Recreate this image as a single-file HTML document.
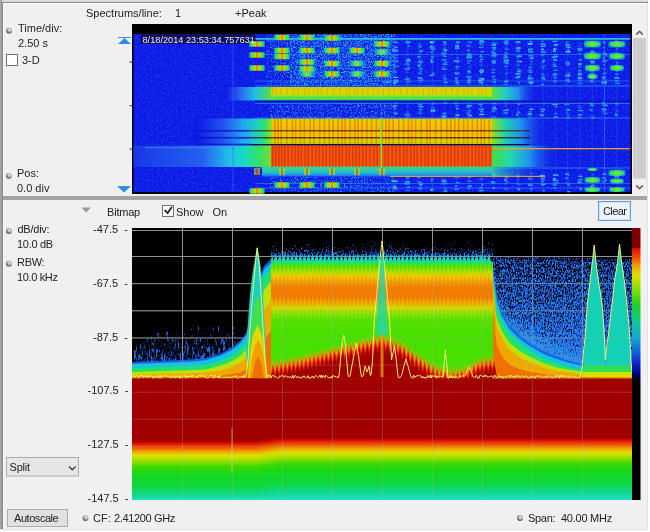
<!DOCTYPE html>
<html><head><meta charset="utf-8"><style>
*{margin:0;padding:0;box-sizing:border-box}
html,body{width:650px;height:532px;overflow:hidden;background:#f0f0f0}
body{position:relative;font-family:"Liberation Sans",sans-serif;font-size:11px;color:#222}
.t{position:absolute;white-space:nowrap;line-height:1}
.ab{position:absolute}
svg{position:absolute;left:0;top:0}
</style></head><body>
<svg width="650" height="532" viewBox="0 0 650 532">
<defs>
<linearGradient id="floorg" x1="0" y1="378.5" x2="0" y2="500" gradientUnits="userSpaceOnUse"><stop offset="0.0000" stop-color="#a00000"/><stop offset="0.4897" stop-color="#a00000"/><stop offset="0.5103" stop-color="#e01000"/><stop offset="0.5432" stop-color="#f05000"/><stop offset="0.5761" stop-color="#f0a000"/><stop offset="0.6091" stop-color="#e0e000"/><stop offset="0.6502" stop-color="#a0e000"/><stop offset="0.6996" stop-color="#40d800"/><stop offset="0.7654" stop-color="#10d818"/><stop offset="0.8642" stop-color="#10d840"/><stop offset="0.9383" stop-color="#10d890"/><stop offset="1.0000" stop-color="#20e0c8"/></linearGradient><linearGradient id="floorL" x1="0" y1="378.5" x2="0" y2="500" gradientUnits="userSpaceOnUse"><stop offset="0.0000" stop-color="#a00000"/><stop offset="0.5144" stop-color="#a00000"/><stop offset="0.5350" stop-color="#e01000"/><stop offset="0.5679" stop-color="#f05000"/><stop offset="0.6008" stop-color="#f0a000"/><stop offset="0.6337" stop-color="#e0e000"/><stop offset="0.6749" stop-color="#a0e000"/><stop offset="0.7243" stop-color="#40d800"/><stop offset="0.7901" stop-color="#10d818"/><stop offset="0.8889" stop-color="#10d840"/><stop offset="0.9630" stop-color="#10d890"/><stop offset="1.0000" stop-color="#20e0c8"/></linearGradient>
<filter id="sn1" x="0" y="0" width="1" height="1" color-interpolation-filters="sRGB">
<feTurbulence type="fractalNoise" baseFrequency="0.8 0.5" numOctaves="2" seed="21" result="n"/>
<feColorMatrix in="n" type="matrix" values="0 0 0 0 0  0 0 0 0 0  0 0 0 0 0  1 0 0 0 0" result="na"/>
<feComposite in="na" in2="SourceAlpha" operator="arithmetic" k1="0" k2="1" k3="1" k4="-1" result="s"/>
<feComponentTransfer in="s" result="th"><feFuncA type="linear" slope="6" intercept="-0.2"/></feComponentTransfer>
<feFlood flood-color="#1830f0" result="f"/>
<feComposite in="f" in2="th" operator="in"/>
</filter><filter id="sn2" x="0" y="0" width="1" height="1" color-interpolation-filters="sRGB">
<feTurbulence type="fractalNoise" baseFrequency="0.7 0.8" numOctaves="2" seed="33" result="n"/>
<feColorMatrix in="n" type="matrix" values="0 0 0 0 0  0 0 0 0 0  0 0 0 0 0  1 0 0 0 0" result="na"/>
<feComposite in="na" in2="SourceAlpha" operator="arithmetic" k1="0" k2="1" k3="1" k4="-1" result="s"/>
<feComponentTransfer in="s" result="th"><feFuncA type="linear" slope="6" intercept="-0.2"/></feComponentTransfer>
<feFlood flood-color="#2080f0" result="f"/>
<feComposite in="f" in2="th" operator="in"/>
</filter><filter id="sn3" x="0" y="0" width="1" height="1" color-interpolation-filters="sRGB">
<feTurbulence type="fractalNoise" baseFrequency="0.7 0.8" numOctaves="2" seed="45" result="n"/>
<feColorMatrix in="n" type="matrix" values="0 0 0 0 0  0 0 0 0 0  0 0 0 0 0  1 0 0 0 0" result="na"/>
<feComposite in="na" in2="SourceAlpha" operator="arithmetic" k1="0" k2="1" k3="1" k4="-1" result="s"/>
<feComponentTransfer in="s" result="th"><feFuncA type="linear" slope="6" intercept="-0.2"/></feComponentTransfer>
<feFlood flood-color="#30b8f0" result="f"/>
<feComposite in="f" in2="th" operator="in"/>
</filter><linearGradient id="bBl" x1="225" y1="0" x2="272" y2="0" gradientUnits="userSpaceOnUse"><stop offset="0" stop-color="#0c18e4"/><stop offset="0.3" stop-color="#2a60f0"/><stop offset="0.65" stop-color="#20c0e0"/><stop offset="1" stop-color="#60e040"/></linearGradient><linearGradient id="bBr" x1="492" y1="0" x2="535" y2="0" gradientUnits="userSpaceOnUse"><stop offset="0" stop-color="#60e040"/><stop offset="0.3" stop-color="#20d0c0"/><stop offset="0.6" stop-color="#2090f0"/><stop offset="1" stop-color="#1840e8" stop-opacity="0"/></linearGradient><linearGradient id="bBv" x1="0" y1="87" x2="0" y2="100.5" gradientUnits="userSpaceOnUse"><stop offset="0" stop-color="#b0e000"/><stop offset="0.3" stop-color="#e8d000"/><stop offset="0.55" stop-color="#c0e000"/><stop offset="0.75" stop-color="#60e040"/><stop offset="1" stop-color="#30e060"/></linearGradient><linearGradient id="bDl" x1="195" y1="0" x2="273" y2="0" gradientUnits="userSpaceOnUse"><stop offset="0" stop-color="#0c18e4"/><stop offset="0.35" stop-color="#2450f0"/><stop offset="0.62" stop-color="#20a8f0"/><stop offset="0.8" stop-color="#20d0c0"/><stop offset="0.9" stop-color="#30e070"/><stop offset="1" stop-color="#b0e000"/></linearGradient><linearGradient id="bDr" x1="492" y1="0" x2="545" y2="0" gradientUnits="userSpaceOnUse"><stop offset="0" stop-color="#90e020"/><stop offset="0.25" stop-color="#20d0b0"/><stop offset="0.55" stop-color="#2090f0"/><stop offset="1" stop-color="#1840e8" stop-opacity="0"/></linearGradient><linearGradient id="bDv" x1="0" y1="118.5" x2="0" y2="144.5" gradientUnits="userSpaceOnUse"><stop offset="0" stop-color="#e0d800"/><stop offset="0.4" stop-color="#f0c000"/><stop offset="0.75" stop-color="#e8d000"/><stop offset="1" stop-color="#b0e000"/></linearGradient><linearGradient id="bEl" x1="133.5" y1="0" x2="271" y2="0" gradientUnits="userSpaceOnUse"><stop offset="0" stop-color="#1838e8"/><stop offset="0.5" stop-color="#2460f0"/><stop offset="0.7" stop-color="#20c0e8"/><stop offset="0.8" stop-color="#18d8c8"/><stop offset="0.9" stop-color="#30e070"/><stop offset="1" stop-color="#70e030"/></linearGradient><linearGradient id="bEr" x1="492" y1="0" x2="555" y2="0" gradientUnits="userSpaceOnUse"><stop offset="0" stop-color="#40e040"/><stop offset="0.3" stop-color="#20d8b0"/><stop offset="0.6" stop-color="#2090f0"/><stop offset="1" stop-color="#1840e8" stop-opacity="0"/></linearGradient><linearGradient id="bFv" x1="0" y1="166.5" x2="0" y2="176.5" gradientUnits="userSpaceOnUse"><stop offset="0" stop-color="#40e060"/><stop offset="0.35" stop-color="#30d8a0"/><stop offset="0.7" stop-color="#20b0e0"/><stop offset="1" stop-color="#2070f0"/></linearGradient><linearGradient id="bFr" x1="492" y1="0" x2="540" y2="0" gradientUnits="userSpaceOnUse"><stop offset="0" stop-color="#30d0b0"/><stop offset="1" stop-color="#2060f0" stop-opacity="0"/></linearGradient><linearGradient id="spg" x1="0" y1="0" x2="1" y2="0"><stop offset="0" stop-color="#20d0a0" stop-opacity="0.4"/><stop offset="0.12" stop-color="#30e070"/><stop offset="0.36" stop-color="#a0e000"/><stop offset="0.45" stop-color="#f0c000"/><stop offset="0.5" stop-color="#e83000"/><stop offset="0.55" stop-color="#f0c000"/><stop offset="0.64" stop-color="#a0e000"/><stop offset="0.88" stop-color="#30e070"/><stop offset="1" stop-color="#20d0a0" stop-opacity="0.4"/></linearGradient><linearGradient id="spf" x1="0" y1="0" x2="1" y2="0"><stop offset="0" stop-color="#20b0e0" stop-opacity="0.3"/><stop offset="0.3" stop-color="#30d890"/><stop offset="0.5" stop-color="#80e030"/><stop offset="0.7" stop-color="#30d890"/><stop offset="1" stop-color="#20b0e0" stop-opacity="0.3"/></linearGradient><radialGradient id="spr" cx="0.5" cy="0.5" r="0.5"><stop offset="0" stop-color="#c0e000"/><stop offset="0.45" stop-color="#50e040"/><stop offset="0.8" stop-color="#20e080"/><stop offset="1" stop-color="#20c0c0" stop-opacity="0.6"/></radialGradient>
<filter id="spk3" x="0" y="0" width="1" height="1" color-interpolation-filters="sRGB">
<feTurbulence type="fractalNoise" baseFrequency="0.55 0.13" numOctaves="3" seed="9" result="n"/>
<feColorMatrix in="n" type="matrix" values="0 0 0 0 0  0 0 0 0 0  0 0 0 0 0  1 0 0 0 0" result="na"/>
<feComposite in="na" in2="SourceAlpha" operator="arithmetic" k1="0" k2="1" k3="1" k4="-1" result="s"/>
<feComponentTransfer in="s" result="th"><feFuncA type="linear" slope="7" intercept="-0.3"/></feComponentTransfer>
<feFlood flood-color="#2470ec" result="f"/>
<feComposite in="f" in2="th" operator="in"/>
</filter>
<filter id="spk1" x="0" y="0" width="1" height="1" color-interpolation-filters="sRGB">
<feTurbulence type="fractalNoise" baseFrequency="0.95 0.45" numOctaves="2" seed="4" result="n"/>
<feColorMatrix in="n" type="matrix" values="0 0 0 0 0  0 0 0 0 0  0 0 0 0 0  1 0 0 0 0" result="na"/>
<feComposite in="na" in2="SourceAlpha" operator="arithmetic" k1="0" k2="1" k3="1" k4="-1" result="s"/>
<feComponentTransfer in="s" result="th"><feFuncA type="linear" slope="6" intercept="-0.2"/></feComponentTransfer>
<feFlood flood-color="#1850e0" result="f"/>
<feComposite in="f" in2="th" operator="in"/>
</filter>
<filter id="spk2" x="0" y="0" width="1" height="1" color-interpolation-filters="sRGB">
<feTurbulence type="fractalNoise" baseFrequency="0.9 0.4" numOctaves="2" seed="17" result="n"/>
<feColorMatrix in="n" type="matrix" values="0 0 0 0 0  0 0 0 0 0  0 0 0 0 0  1 0 0 0 0" result="na"/>
<feComposite in="na" in2="SourceAlpha" operator="arithmetic" k1="0" k2="1" k3="1" k4="-1" result="s"/>
<feComponentTransfer in="s" result="th"><feFuncA type="linear" slope="6" intercept="-0.5"/></feComponentTransfer>
<feFlood flood-color="#2a88f0" result="f"/>
<feComposite in="f" in2="th" operator="in"/>
</filter>
<linearGradient id="dR" x1="0" y1="256" x2="0" y2="372" gradientUnits="userSpaceOnUse"><stop offset="0" stop-color="#fff" stop-opacity="0.55"/><stop offset="1" stop-color="#fff"/></linearGradient><linearGradient id="dR2" x1="0" y1="256" x2="0" y2="372" gradientUnits="userSpaceOnUse"><stop offset="0" stop-color="#fff" stop-opacity="0.56"/><stop offset="0.5" stop-color="#fff" stop-opacity="0.63"/><stop offset="1" stop-color="#fff" stop-opacity="0.74"/></linearGradient><linearGradient id="dL" x1="0" y1="325" x2="0" y2="368" gradientUnits="userSpaceOnUse"><stop offset="0" stop-color="#fff" stop-opacity="0.36"/><stop offset="0.6" stop-color="#fff" stop-opacity="0.49"/><stop offset="1" stop-color="#fff" stop-opacity="0.61"/></linearGradient><linearGradient id="dRx" x1="493" y1="0" x2="605" y2="0" gradientUnits="userSpaceOnUse"><stop offset="0" stop-color="#fff" stop-opacity="1"/><stop offset="1" stop-color="#fff" stop-opacity="1"/></linearGradient><linearGradient id="dT" x1="0" y1="242" x2="0" y2="256" gradientUnits="userSpaceOnUse"><stop offset="0" stop-color="#fff" stop-opacity="0.32"/><stop offset="1" stop-color="#fff" stop-opacity="0.56"/></linearGradient><linearGradient id="blk" x1="0" y1="252" x2="0" y2="378" gradientUnits="userSpaceOnUse"><stop offset="0.0" stop-color="#1860f0"/><stop offset="0.0238" stop-color="#10a8f0"/><stop offset="0.0556" stop-color="#10d8d0"/><stop offset="0.0873" stop-color="#20e070"/><stop offset="0.119" stop-color="#40e000"/><stop offset="0.1587" stop-color="#a0e000"/><stop offset="0.1984" stop-color="#f0d000"/><stop offset="0.2381" stop-color="#f0a000"/><stop offset="0.2857" stop-color="#f08000"/><stop offset="0.3651" stop-color="#f07800"/><stop offset="0.4127" stop-color="#f0a000"/><stop offset="0.4444" stop-color="#e0d800"/><stop offset="0.4841" stop-color="#a0e000"/><stop offset="0.5397" stop-color="#58e000"/><stop offset="0.6587" stop-color="#48e000"/><stop offset="1.0" stop-color="#48e000"/></linearGradient><linearGradient id="blk2" x1="0" y1="247" x2="0" y2="373" gradientUnits="userSpaceOnUse"><stop offset="0.0" stop-color="#1860f0"/><stop offset="0.0238" stop-color="#10a8f0"/><stop offset="0.0556" stop-color="#10d8d0"/><stop offset="0.0873" stop-color="#20e070"/><stop offset="0.119" stop-color="#40e000"/><stop offset="0.1587" stop-color="#a0e000"/><stop offset="0.1984" stop-color="#f0d000"/><stop offset="0.2381" stop-color="#f0a000"/><stop offset="0.2857" stop-color="#f08000"/><stop offset="0.3651" stop-color="#f07800"/><stop offset="0.4127" stop-color="#f0a000"/><stop offset="0.4444" stop-color="#e0d800"/><stop offset="0.4841" stop-color="#a0e000"/><stop offset="0.5397" stop-color="#58e000"/><stop offset="0.6587" stop-color="#48e000"/><stop offset="1.0" stop-color="#48e000"/></linearGradient><pattern id="comb" patternUnits="userSpaceOnUse" x="271" y="0" width="4.1" height="532"><rect x="0" y="247" width="1.8" height="131" fill="url(#blk2)"/></pattern><linearGradient id="cbar" x1="0" y1="228" x2="0" y2="500" gradientUnits="userSpaceOnUse"><stop offset="0.0" stop-color="#800000"/><stop offset="0.0735" stop-color="#800000"/><stop offset="0.0757" stop-color="#e01000"/><stop offset="0.1103" stop-color="#f05000"/><stop offset="0.1397" stop-color="#f0a000"/><stop offset="0.1728" stop-color="#e0e000"/><stop offset="0.2279" stop-color="#80e000"/><stop offset="0.2831" stop-color="#20d020"/><stop offset="0.3456" stop-color="#10c890"/><stop offset="0.4044" stop-color="#10a8d0"/><stop offset="0.4559" stop-color="#1060e0"/><stop offset="0.5" stop-color="#1020d0"/><stop offset="0.5368" stop-color="#000080"/><stop offset="0.5625" stop-color="#000000"/><stop offset="1.0" stop-color="#000000"/></linearGradient><radialGradient id="ico" cx="0.58" cy="0.36" r="0.72"><stop offset="0" stop-color="#eef0e6"/><stop offset="0.4" stop-color="#b4bca4"/><stop offset="0.72" stop-color="#6a7080"/><stop offset="1" stop-color="#2a2a62"/></radialGradient></defs>
<rect x="0" y="0" width="650" height="2" fill="#dcdcdc"/>
<rect x="0" y="2" width="648" height="1" fill="#878787"/>
<rect x="3" y="3" width="645" height="1" fill="#fbfbfb"/>
<rect x="0" y="0" width="1" height="530" fill="#a8a8a8"/>
<rect x="1" y="0" width="1" height="530" fill="#999"/>
<rect x="2" y="2" width="1" height="528" fill="#8a8a8a"/>
<rect x="3" y="3" width="1" height="526" fill="#f8f8f8"/>
<rect x="647" y="3" width="1" height="527" fill="#e2e2e2"/>
<rect x="648" y="0" width="2" height="532" fill="#fdfdfd"/>
<rect x="0" y="529" width="648" height="1" fill="#e2e2e2"/>
<rect x="0" y="530" width="650" height="2" fill="#fdfdfd"/>
<rect x="3" y="196" width="644" height="4" fill="#a3a3a3"/>
<rect x="132" y="24" width="500" height="170" fill="#000"/><rect x="133.5" y="34" width="497" height="158" fill="#0c18e4"/><rect x="133.5" y="34" width="497" height="158" fill="#fff" fill-opacity="0.56" filter="url(#sn1)"/><rect x="290" y="34" width="105" height="52" fill="#fff" fill-opacity="0.56" filter="url(#sn2)"/><rect x="290" y="34" width="105" height="52" fill="#fff" fill-opacity="0.47" filter="url(#sn3)"/><rect x="266" y="34" width="24" height="52" fill="#fff" fill-opacity="0.47" filter="url(#sn2)"/><rect x="266" y="34" width="24" height="52" fill="#fff" fill-opacity="0.4" filter="url(#sn3)"/><rect x="270" y="103" width="125" height="15" fill="#fff" fill-opacity="0.47" filter="url(#sn2)"/><rect x="270" y="103" width="125" height="15" fill="#fff" fill-opacity="0.42" filter="url(#sn3)"/><rect x="270" y="177" width="125" height="15" fill="#fff" fill-opacity="0.48" filter="url(#sn2)"/><rect x="270" y="177" width="125" height="15" fill="#fff" fill-opacity="0.42" filter="url(#sn3)"/><rect x="393.7" y="50.5" width="5" height="1.3" fill="#30a0f0" opacity="0.9"/><rect x="393.7" y="60.9" width="5" height="1.3" fill="#2a70f0" opacity="0.5"/><rect x="393.9" y="60.6" width="5" height="1.3" fill="#30a0f0" opacity="0.7"/><rect x="393.2" y="60.7" width="5" height="1.3" fill="#30b0f0" opacity="1"/><rect x="394.4" y="46.6" width="3" height="1.3" fill="#60d8f0" opacity="1"/><rect x="394.0" y="69.5" width="2" height="1.3" fill="#30a0f0" opacity="0.5"/><rect x="394.3" y="41.4" width="3" height="1.3" fill="#30b0f0" opacity="1"/><rect x="394.3" y="80.5" width="4" height="1.3" fill="#20c8e0" opacity="1"/><rect x="393.2" y="45.9" width="3" height="1.3" fill="#2a70f0" opacity="0.5"/><rect x="393.2" y="49.5" width="4" height="1.3" fill="#20c8e0" opacity="0.9"/><rect x="393.1" y="76.7" width="5" height="1.3" fill="#40c0f0" opacity="1"/><rect x="394.8" y="79.8" width="2" height="1.3" fill="#40c0f0" opacity="0.7"/><rect x="393.3" y="54.4" width="5" height="1.3" fill="#60d8f0" opacity="0.5"/><rect x="392.1" y="49.3" width="5" height="1.3" fill="#40c0f0" opacity="0.9"/><rect x="394.0" y="61.2" width="4" height="1.3" fill="#2a70f0" opacity="0.9"/><rect x="393.8" y="58.1" width="3" height="1.3" fill="#2a70f0" opacity="0.9"/><rect x="394.2" y="58.3" width="2" height="1.3" fill="#2a70f0" opacity="0.5"/><rect x="393.9" y="65.8" width="5" height="1.3" fill="#40c0f0" opacity="0.7"/><rect x="395.3" y="53.6" width="2" height="1.3" fill="#2a70f0" opacity="0.5"/><rect x="393.2" y="82.7" width="3" height="1.3" fill="#60d8f0" opacity="0.9"/><rect x="394.8" y="41.9" width="3" height="1.3" fill="#40c0f0" opacity="0.9"/><rect x="394.1" y="79.5" width="4" height="1.3" fill="#30b0f0" opacity="1"/><rect x="393.1" y="57.0" width="5" height="1.3" fill="#20c8e0" opacity="0.5"/><rect x="393.2" y="81.4" width="5" height="1.3" fill="#40c0f0" opacity="1"/><rect x="393.9" y="71.5" width="3" height="1.3" fill="#30b0f0" opacity="0.9"/><rect x="393.4" y="64.1" width="2" height="1.3" fill="#30b0f0" opacity="0.9"/><rect x="393.8" y="111.9" width="3" height="1.3" fill="#2a70f0" opacity="0.9"/><rect x="394.4" y="112.9" width="3" height="1.3" fill="#60d8f0" opacity="0.9"/><rect x="395.3" y="102.4" width="2" height="1.3" fill="#20c8e0" opacity="0.5"/><rect x="392.8" y="106.0" width="4" height="1.3" fill="#40c0f0" opacity="0.9"/><rect x="393.5" y="105.0" width="3" height="1.3" fill="#60d8f0" opacity="0.9"/><rect x="394.0" y="108.0" width="2" height="1.3" fill="#60d8f0" opacity="0.7"/><rect x="393.3" y="105.6" width="3" height="1.3" fill="#30a0f0" opacity="0.9"/><rect x="395.3" y="180.8" width="2" height="1.3" fill="#2a70f0" opacity="0.9"/><rect x="393.1" y="185.1" width="3" height="1.3" fill="#30b0f0" opacity="0.7"/><rect x="393.4" y="186.4" width="3" height="1.3" fill="#60d8f0" opacity="1"/><rect x="394.0" y="187.2" width="2" height="1.3" fill="#60d8f0" opacity="0.7"/><rect x="392.6" y="188.1" width="5" height="1.3" fill="#30a0f0" opacity="0.9"/><rect x="394.6" y="187.9" width="2" height="1.3" fill="#60d8f0" opacity="0.9"/><rect x="392.6" y="180.6" width="5" height="1.3" fill="#40c0f0" opacity="1"/><rect x="392.5" y="180.5" width="4" height="1.3" fill="#60d8f0" opacity="1"/><rect x="394.9" y="40" width="1" height="152" fill="#2050f0" opacity="0.5"/><rect x="407.1" y="58.2" width="3" height="1.3" fill="#2a70f0" opacity="1"/><rect x="404.3" y="78.7" width="5" height="1.3" fill="#30b0f0" opacity="0.7"/><rect x="406.0" y="60.1" width="5" height="1.3" fill="#40c0f0" opacity="0.9"/><rect x="405.8" y="77.9" width="5" height="1.3" fill="#40c0f0" opacity="0.5"/><rect x="405.4" y="42.0" width="5" height="1.3" fill="#30a0f0" opacity="1"/><rect x="406.2" y="40.6" width="2" height="1.3" fill="#30a0f0" opacity="0.9"/><rect x="406.1" y="40.9" width="5" height="1.3" fill="#30b0f0" opacity="0.5"/><rect x="407.1" y="66.9" width="3" height="1.3" fill="#30a0f0" opacity="0.9"/><rect x="406.1" y="63.8" width="2" height="1.3" fill="#40c0f0" opacity="0.7"/><rect x="407.3" y="63.5" width="2" height="1.3" fill="#30a0f0" opacity="0.7"/><rect x="406.5" y="80.6" width="3" height="1.3" fill="#2a70f0" opacity="1"/><rect x="406.2" y="78.0" width="2" height="1.3" fill="#40c0f0" opacity="0.7"/><rect x="405.3" y="63.2" width="4" height="1.3" fill="#2a70f0" opacity="1"/><rect x="405.9" y="76.1" width="2" height="1.3" fill="#30a0f0" opacity="0.5"/><rect x="406.7" y="43.0" width="2" height="1.3" fill="#20c8e0" opacity="0.5"/><rect x="405.9" y="61.6" width="3" height="1.3" fill="#40c0f0" opacity="0.5"/><rect x="404.7" y="68.5" width="5" height="1.3" fill="#40c0f0" opacity="0.9"/><rect x="405.8" y="83.5" width="4" height="1.3" fill="#2a70f0" opacity="0.7"/><rect x="404.8" y="71.5" width="4" height="1.3" fill="#2a70f0" opacity="0.7"/><rect x="405.4" y="60.3" width="5" height="1.3" fill="#30b0f0" opacity="0.5"/><rect x="406.7" y="59.0" width="3" height="1.3" fill="#20c8e0" opacity="1"/><rect x="405.2" y="53.9" width="4" height="1.3" fill="#30b0f0" opacity="0.5"/><rect x="404.6" y="63.6" width="5" height="1.3" fill="#2a70f0" opacity="1"/><rect x="407.6" y="45.7" width="2" height="1.3" fill="#40c0f0" opacity="0.9"/><rect x="406.6" y="64.6" width="3" height="1.3" fill="#2a70f0" opacity="1"/><rect x="405.7" y="81.3" width="5" height="1.3" fill="#30b0f0" opacity="0.5"/><rect x="406.6" y="111.0" width="2" height="1.3" fill="#60d8f0" opacity="0.5"/><rect x="405.8" y="105.8" width="4" height="1.3" fill="#2a70f0" opacity="0.5"/><rect x="405.4" y="112.5" width="4" height="1.3" fill="#30a0f0" opacity="0.5"/><rect x="407.4" y="115.6" width="2" height="1.3" fill="#2a70f0" opacity="1"/><rect x="404.3" y="117.2" width="5" height="1.3" fill="#40c0f0" opacity="0.5"/><rect x="404.4" y="114.3" width="5" height="1.3" fill="#60d8f0" opacity="0.7"/><rect x="405.9" y="114.0" width="5" height="1.3" fill="#2a70f0" opacity="0.9"/><rect x="407.0" y="176.2" width="2" height="1.3" fill="#30a0f0" opacity="0.7"/><rect x="405.9" y="181.2" width="4" height="1.3" fill="#40c0f0" opacity="0.9"/><rect x="405.0" y="189.9" width="5" height="1.3" fill="#30b0f0" opacity="0.5"/><rect x="405.5" y="177.2" width="4" height="1.3" fill="#20c8e0" opacity="0.7"/><rect x="404.5" y="183.2" width="5" height="1.3" fill="#20c8e0" opacity="1"/><rect x="406.2" y="180.2" width="3" height="1.3" fill="#30a0f0" opacity="0.5"/><rect x="404.5" y="181.7" width="5" height="1.3" fill="#30b0f0" opacity="0.7"/><rect x="407.1" y="186.5" width="3" height="1.3" fill="#60d8f0" opacity="0.9"/><rect x="407.2" y="40" width="1" height="152" fill="#2050f0" opacity="0.5"/><rect x="417.7" y="77.5" width="5" height="1.3" fill="#40c0f0" opacity="1"/><rect x="417.5" y="65.7" width="3" height="1.3" fill="#30a0f0" opacity="0.9"/><rect x="418.1" y="61.1" width="4" height="1.3" fill="#30a0f0" opacity="0.7"/><rect x="419.0" y="50.5" width="4" height="1.3" fill="#30a0f0" opacity="1"/><rect x="417.7" y="61.1" width="5" height="1.3" fill="#30a0f0" opacity="1"/><rect x="418.5" y="79.7" width="5" height="1.3" fill="#2a70f0" opacity="1"/><rect x="417.9" y="43.2" width="4" height="1.3" fill="#20c8e0" opacity="0.5"/><rect x="419.4" y="50.1" width="3" height="1.3" fill="#20c8e0" opacity="0.5"/><rect x="417.8" y="77.6" width="3" height="1.3" fill="#30a0f0" opacity="0.9"/><rect x="419.7" y="67.4" width="2" height="1.3" fill="#40c0f0" opacity="0.7"/><rect x="417.2" y="53.8" width="4" height="1.3" fill="#2a70f0" opacity="0.5"/><rect x="418.4" y="51.6" width="3" height="1.3" fill="#2a70f0" opacity="0.9"/><rect x="418.2" y="72.3" width="3" height="1.3" fill="#2a70f0" opacity="0.5"/><rect x="418.3" y="59.2" width="4" height="1.3" fill="#2a70f0" opacity="0.7"/><rect x="418.1" y="72.7" width="4" height="1.3" fill="#30b0f0" opacity="0.7"/><rect x="417.7" y="45.2" width="3" height="1.3" fill="#2a70f0" opacity="1"/><rect x="418.9" y="79.0" width="3" height="1.3" fill="#2a70f0" opacity="0.9"/><rect x="417.2" y="56.2" width="4" height="1.3" fill="#40c0f0" opacity="0.9"/><rect x="418.8" y="81.6" width="3" height="1.3" fill="#20c8e0" opacity="0.5"/><rect x="419.4" y="62.4" width="2" height="1.3" fill="#20c8e0" opacity="0.9"/><rect x="417.9" y="64.9" width="3" height="1.3" fill="#20c8e0" opacity="0.7"/><rect x="418.9" y="79.2" width="4" height="1.3" fill="#2a70f0" opacity="0.5"/><rect x="418.6" y="46.2" width="3" height="1.3" fill="#20c8e0" opacity="1"/><rect x="418.6" y="68.5" width="4" height="1.3" fill="#30b0f0" opacity="0.9"/><rect x="419.5" y="71.0" width="2" height="1.3" fill="#20c8e0" opacity="0.7"/><rect x="417.5" y="63.9" width="4" height="1.3" fill="#40c0f0" opacity="0.5"/><rect x="418.5" y="108.1" width="3" height="1.3" fill="#2a70f0" opacity="1"/><rect x="418.4" y="106.0" width="5" height="1.3" fill="#40c0f0" opacity="0.9"/><rect x="419.7" y="109.2" width="2" height="1.3" fill="#40c0f0" opacity="1"/><rect x="418.9" y="103.8" width="3" height="1.3" fill="#60d8f0" opacity="0.5"/><rect x="419.1" y="111.0" width="2" height="1.3" fill="#30a0f0" opacity="0.7"/><rect x="418.2" y="112.7" width="4" height="1.3" fill="#20c8e0" opacity="0.7"/><rect x="418.1" y="104.3" width="4" height="1.3" fill="#30a0f0" opacity="0.7"/><rect x="417.6" y="176.6" width="3" height="1.3" fill="#40c0f0" opacity="0.9"/><rect x="418.1" y="187.5" width="4" height="1.3" fill="#30b0f0" opacity="0.9"/><rect x="418.8" y="183.5" width="4" height="1.3" fill="#60d8f0" opacity="0.9"/><rect x="419.5" y="185.0" width="2" height="1.3" fill="#60d8f0" opacity="0.7"/><rect x="418.5" y="173.0" width="3" height="1.3" fill="#30b0f0" opacity="0.7"/><rect x="417.6" y="181.3" width="3" height="1.3" fill="#60d8f0" opacity="0.7"/><rect x="418.9" y="182.0" width="4" height="1.3" fill="#2a70f0" opacity="0.9"/><rect x="418.7" y="189.1" width="3" height="1.3" fill="#30b0f0" opacity="0.5"/><rect x="419.5" y="40" width="1" height="152" fill="#2050f0" opacity="0.5"/><rect x="430.8" y="42.2" width="3" height="1.3" fill="#60d8f0" opacity="0.7"/><rect x="431.0" y="61.9" width="2" height="1.3" fill="#40c0f0" opacity="0.9"/><rect x="431.2" y="55.1" width="3" height="1.3" fill="#2a70f0" opacity="0.5"/><rect x="431.5" y="72.5" width="3" height="1.3" fill="#30a0f0" opacity="0.5"/><rect x="430.0" y="59.2" width="3" height="1.3" fill="#30b0f0" opacity="0.9"/><rect x="431.1" y="41.9" width="2" height="1.3" fill="#30a0f0" opacity="0.7"/><rect x="430.7" y="60.8" width="2" height="1.3" fill="#60d8f0" opacity="1"/><rect x="431.8" y="61.5" width="2" height="1.3" fill="#30b0f0" opacity="1"/><rect x="431.2" y="57.7" width="3" height="1.3" fill="#30b0f0" opacity="0.5"/><rect x="431.0" y="56.1" width="3" height="1.3" fill="#30b0f0" opacity="0.9"/><rect x="431.9" y="49.8" width="2" height="1.3" fill="#30a0f0" opacity="0.9"/><rect x="429.6" y="46.3" width="4" height="1.3" fill="#60d8f0" opacity="0.7"/><rect x="430.1" y="41.0" width="5" height="1.3" fill="#30b0f0" opacity="0.7"/><rect x="429.8" y="46.1" width="5" height="1.3" fill="#30a0f0" opacity="1"/><rect x="430.9" y="42.6" width="2" height="1.3" fill="#30b0f0" opacity="1"/><rect x="430.4" y="41.4" width="2" height="1.3" fill="#30a0f0" opacity="1"/><rect x="430.6" y="61.7" width="3" height="1.3" fill="#30a0f0" opacity="0.5"/><rect x="430.5" y="48.4" width="3" height="1.3" fill="#60d8f0" opacity="0.5"/><rect x="430.9" y="45.5" width="2" height="1.3" fill="#20c8e0" opacity="0.9"/><rect x="429.8" y="74.7" width="4" height="1.3" fill="#40c0f0" opacity="1"/><rect x="430.4" y="51.7" width="3" height="1.3" fill="#20c8e0" opacity="0.9"/><rect x="429.5" y="42.5" width="4" height="1.3" fill="#2a70f0" opacity="0.5"/><rect x="431.3" y="70.0" width="2" height="1.3" fill="#30a0f0" opacity="0.5"/><rect x="430.6" y="48.3" width="5" height="1.3" fill="#40c0f0" opacity="0.7"/><rect x="431.7" y="73.3" width="3" height="1.3" fill="#30b0f0" opacity="0.9"/><rect x="430.0" y="41.5" width="3" height="1.3" fill="#60d8f0" opacity="1"/><rect x="430.4" y="106.7" width="4" height="1.3" fill="#2a70f0" opacity="1"/><rect x="431.0" y="110.6" width="4" height="1.3" fill="#30a0f0" opacity="1"/><rect x="430.7" y="110.9" width="3" height="1.3" fill="#40c0f0" opacity="1"/><rect x="430.9" y="109.1" width="4" height="1.3" fill="#40c0f0" opacity="0.9"/><rect x="430.7" y="110.1" width="5" height="1.3" fill="#20c8e0" opacity="1"/><rect x="431.4" y="102.7" width="3" height="1.3" fill="#20c8e0" opacity="0.5"/><rect x="431.5" y="103.5" width="2" height="1.3" fill="#40c0f0" opacity="0.7"/><rect x="431.2" y="187.4" width="2" height="1.3" fill="#60d8f0" opacity="0.5"/><rect x="429.9" y="189.1" width="3" height="1.3" fill="#40c0f0" opacity="0.5"/><rect x="430.5" y="180.2" width="2" height="1.3" fill="#40c0f0" opacity="0.9"/><rect x="431.8" y="174.5" width="3" height="1.3" fill="#30a0f0" opacity="0.5"/><rect x="430.0" y="189.8" width="3" height="1.3" fill="#60d8f0" opacity="0.5"/><rect x="430.8" y="178.2" width="3" height="1.3" fill="#30a0f0" opacity="1"/><rect x="430.7" y="189.3" width="3" height="1.3" fill="#60d8f0" opacity="0.7"/><rect x="432.0" y="184.2" width="2" height="1.3" fill="#2a70f0" opacity="0.5"/><rect x="431.8" y="40" width="1" height="152" fill="#2050f0" opacity="0.5"/><rect x="443.0" y="44.5" width="3" height="1.3" fill="#2a70f0" opacity="0.5"/><rect x="442.6" y="49.8" width="5" height="1.3" fill="#2a70f0" opacity="1"/><rect x="443.7" y="78.4" width="3" height="1.3" fill="#30b0f0" opacity="1"/><rect x="441.5" y="52.8" width="5" height="1.3" fill="#30b0f0" opacity="1"/><rect x="442.3" y="63.7" width="4" height="1.3" fill="#40c0f0" opacity="0.5"/><rect x="443.4" y="48.4" width="2" height="1.3" fill="#60d8f0" opacity="0.9"/><rect x="441.6" y="68.5" width="5" height="1.3" fill="#60d8f0" opacity="0.7"/><rect x="443.5" y="76.9" width="2" height="1.3" fill="#40c0f0" opacity="0.7"/><rect x="443.6" y="43.7" width="3" height="1.3" fill="#40c0f0" opacity="0.7"/><rect x="444.0" y="49.1" width="3" height="1.3" fill="#20c8e0" opacity="1"/><rect x="443.4" y="63.6" width="4" height="1.3" fill="#40c0f0" opacity="0.7"/><rect x="443.6" y="81.8" width="4" height="1.3" fill="#30b0f0" opacity="1"/><rect x="443.9" y="80.5" width="3" height="1.3" fill="#2a70f0" opacity="0.7"/><rect x="443.4" y="41.2" width="3" height="1.3" fill="#40c0f0" opacity="0.5"/><rect x="443.0" y="41.8" width="3" height="1.3" fill="#40c0f0" opacity="1"/><rect x="442.4" y="55.2" width="3" height="1.3" fill="#20c8e0" opacity="0.9"/><rect x="442.0" y="59.5" width="4" height="1.3" fill="#30b0f0" opacity="0.5"/><rect x="444.0" y="61.4" width="3" height="1.3" fill="#30b0f0" opacity="0.9"/><rect x="442.3" y="59.0" width="4" height="1.3" fill="#30b0f0" opacity="0.7"/><rect x="442.8" y="77.5" width="3" height="1.3" fill="#2a70f0" opacity="1"/><rect x="444.0" y="55.8" width="3" height="1.3" fill="#20c8e0" opacity="0.7"/><rect x="443.7" y="62.9" width="2" height="1.3" fill="#30a0f0" opacity="0.7"/><rect x="444.6" y="47.3" width="2" height="1.3" fill="#2a70f0" opacity="0.7"/><rect x="443.1" y="74.9" width="3" height="1.3" fill="#40c0f0" opacity="0.5"/><rect x="443.8" y="50.5" width="3" height="1.3" fill="#30b0f0" opacity="0.9"/><rect x="443.1" y="66.6" width="2" height="1.3" fill="#30b0f0" opacity="0.9"/><rect x="442.3" y="112.8" width="4" height="1.3" fill="#30b0f0" opacity="0.9"/><rect x="444.4" y="102.5" width="2" height="1.3" fill="#20c8e0" opacity="0.7"/><rect x="443.1" y="114.9" width="3" height="1.3" fill="#30a0f0" opacity="1"/><rect x="441.1" y="115.3" width="5" height="1.3" fill="#30a0f0" opacity="0.9"/><rect x="443.4" y="102.7" width="4" height="1.3" fill="#20c8e0" opacity="0.5"/><rect x="442.3" y="116.5" width="4" height="1.3" fill="#60d8f0" opacity="1"/><rect x="443.5" y="112.1" width="3" height="1.3" fill="#30a0f0" opacity="0.5"/><rect x="442.6" y="190.9" width="5" height="1.3" fill="#2a70f0" opacity="1"/><rect x="442.7" y="181.0" width="3" height="1.3" fill="#40c0f0" opacity="1"/><rect x="442.1" y="182.5" width="5" height="1.3" fill="#40c0f0" opacity="0.7"/><rect x="442.2" y="180.4" width="3" height="1.3" fill="#30b0f0" opacity="0.9"/><rect x="441.4" y="183.3" width="5" height="1.3" fill="#2a70f0" opacity="1"/><rect x="443.4" y="187.1" width="3" height="1.3" fill="#2a70f0" opacity="1"/><rect x="441.5" y="179.7" width="5" height="1.3" fill="#30b0f0" opacity="1"/><rect x="444.0" y="189.6" width="3" height="1.3" fill="#20c8e0" opacity="1"/><rect x="444.1" y="40" width="1" height="152" fill="#2050f0" opacity="0.5"/><rect x="456.8" y="57.4" width="2" height="1.3" fill="#40c0f0" opacity="0.7"/><rect x="455.5" y="81.5" width="3" height="1.3" fill="#60d8f0" opacity="1"/><rect x="455.9" y="41.6" width="4" height="1.3" fill="#40c0f0" opacity="1"/><rect x="455.8" y="43.5" width="3" height="1.3" fill="#30a0f0" opacity="0.5"/><rect x="456.8" y="45.1" width="2" height="1.3" fill="#20c8e0" opacity="0.5"/><rect x="456.9" y="82.9" width="2" height="1.3" fill="#30b0f0" opacity="0.9"/><rect x="454.7" y="60.3" width="3" height="1.3" fill="#60d8f0" opacity="0.5"/><rect x="456.2" y="61.4" width="3" height="1.3" fill="#30a0f0" opacity="0.7"/><rect x="455.2" y="47.8" width="4" height="1.3" fill="#20c8e0" opacity="1"/><rect x="455.5" y="46.3" width="2" height="1.3" fill="#30a0f0" opacity="0.7"/><rect x="455.4" y="68.5" width="3" height="1.3" fill="#30a0f0" opacity="0.5"/><rect x="455.3" y="46.7" width="3" height="1.3" fill="#30b0f0" opacity="0.5"/><rect x="455.2" y="48.0" width="2" height="1.3" fill="#40c0f0" opacity="0.5"/><rect x="456.3" y="46.4" width="3" height="1.3" fill="#30b0f0" opacity="0.9"/><rect x="456.4" y="66.6" width="3" height="1.3" fill="#2a70f0" opacity="0.9"/><rect x="455.5" y="83.1" width="3" height="1.3" fill="#2a70f0" opacity="0.9"/><rect x="455.8" y="79.4" width="2" height="1.3" fill="#20c8e0" opacity="0.9"/><rect x="454.5" y="72.5" width="5" height="1.3" fill="#20c8e0" opacity="1"/><rect x="453.7" y="60.4" width="5" height="1.3" fill="#40c0f0" opacity="1"/><rect x="455.8" y="60.1" width="4" height="1.3" fill="#30a0f0" opacity="0.9"/><rect x="455.0" y="77.3" width="3" height="1.3" fill="#40c0f0" opacity="0.7"/><rect x="455.2" y="77.0" width="3" height="1.3" fill="#2a70f0" opacity="0.5"/><rect x="455.2" y="78.4" width="2" height="1.3" fill="#60d8f0" opacity="0.5"/><rect x="455.0" y="45.4" width="4" height="1.3" fill="#60d8f0" opacity="0.9"/><rect x="455.6" y="73.7" width="2" height="1.3" fill="#30b0f0" opacity="1"/><rect x="455.4" y="66.0" width="3" height="1.3" fill="#40c0f0" opacity="1"/><rect x="455.8" y="108.0" width="3" height="1.3" fill="#60d8f0" opacity="0.9"/><rect x="455.0" y="114.3" width="3" height="1.3" fill="#20c8e0" opacity="0.9"/><rect x="455.6" y="117.6" width="3" height="1.3" fill="#30a0f0" opacity="0.5"/><rect x="455.0" y="105.5" width="3" height="1.3" fill="#20c8e0" opacity="0.7"/><rect x="454.6" y="117.5" width="4" height="1.3" fill="#30a0f0" opacity="1"/><rect x="456.4" y="114.6" width="3" height="1.3" fill="#60d8f0" opacity="1"/><rect x="454.0" y="102.8" width="4" height="1.3" fill="#30b0f0" opacity="0.9"/><rect x="454.6" y="188.4" width="4" height="1.3" fill="#30a0f0" opacity="0.5"/><rect x="454.3" y="176.9" width="5" height="1.3" fill="#30b0f0" opacity="0.5"/><rect x="454.0" y="188.6" width="5" height="1.3" fill="#40c0f0" opacity="0.5"/><rect x="455.7" y="182.1" width="4" height="1.3" fill="#30b0f0" opacity="0.9"/><rect x="455.2" y="185.3" width="2" height="1.3" fill="#60d8f0" opacity="1"/><rect x="454.7" y="177.0" width="3" height="1.3" fill="#2a70f0" opacity="0.5"/><rect x="454.8" y="174.5" width="3" height="1.3" fill="#30b0f0" opacity="0.9"/><rect x="455.9" y="173.5" width="3" height="1.3" fill="#60d8f0" opacity="1"/><rect x="456.4" y="40" width="1" height="152" fill="#2050f0" opacity="0.5"/><rect x="468.1" y="76.5" width="3" height="1.3" fill="#30b0f0" opacity="0.9"/><rect x="466.5" y="45.3" width="4" height="1.3" fill="#30a0f0" opacity="1"/><rect x="467.3" y="53.5" width="5" height="1.3" fill="#30a0f0" opacity="0.5"/><rect x="468.8" y="66.3" width="2" height="1.3" fill="#30b0f0" opacity="0.5"/><rect x="466.7" y="56.8" width="4" height="1.3" fill="#30a0f0" opacity="1"/><rect x="466.9" y="57.1" width="5" height="1.3" fill="#20c8e0" opacity="1"/><rect x="466.9" y="81.8" width="3" height="1.3" fill="#30b0f0" opacity="0.9"/><rect x="469.0" y="83.1" width="2" height="1.3" fill="#2a70f0" opacity="1"/><rect x="467.3" y="72.8" width="3" height="1.3" fill="#2a70f0" opacity="0.5"/><rect x="468.5" y="80.2" width="2" height="1.3" fill="#20c8e0" opacity="0.9"/><rect x="468.0" y="78.8" width="3" height="1.3" fill="#40c0f0" opacity="0.7"/><rect x="469.0" y="82.2" width="2" height="1.3" fill="#20c8e0" opacity="0.5"/><rect x="467.1" y="62.4" width="3" height="1.3" fill="#60d8f0" opacity="0.5"/><rect x="466.4" y="76.1" width="5" height="1.3" fill="#30b0f0" opacity="0.9"/><rect x="466.8" y="60.1" width="5" height="1.3" fill="#30a0f0" opacity="0.7"/><rect x="466.9" y="55.1" width="5" height="1.3" fill="#30a0f0" opacity="0.9"/><rect x="466.6" y="55.6" width="5" height="1.3" fill="#20c8e0" opacity="0.7"/><rect x="467.7" y="71.7" width="3" height="1.3" fill="#20c8e0" opacity="0.7"/><rect x="466.9" y="77.6" width="3" height="1.3" fill="#2a70f0" opacity="1"/><rect x="466.6" y="80.2" width="4" height="1.3" fill="#30a0f0" opacity="0.9"/><rect x="468.0" y="41.7" width="4" height="1.3" fill="#30a0f0" opacity="1"/><rect x="467.9" y="70.0" width="2" height="1.3" fill="#30a0f0" opacity="1"/><rect x="467.2" y="49.8" width="3" height="1.3" fill="#40c0f0" opacity="0.9"/><rect x="467.1" y="70.5" width="3" height="1.3" fill="#20c8e0" opacity="0.5"/><rect x="467.2" y="53.4" width="3" height="1.3" fill="#60d8f0" opacity="0.7"/><rect x="467.9" y="70.8" width="3" height="1.3" fill="#20c8e0" opacity="0.9"/><rect x="466.9" y="104.8" width="5" height="1.3" fill="#30b0f0" opacity="1"/><rect x="466.4" y="112.1" width="4" height="1.3" fill="#40c0f0" opacity="0.5"/><rect x="467.4" y="110.6" width="4" height="1.3" fill="#30b0f0" opacity="0.5"/><rect x="466.6" y="106.3" width="4" height="1.3" fill="#20c8e0" opacity="1"/><rect x="468.2" y="115.1" width="4" height="1.3" fill="#40c0f0" opacity="1"/><rect x="467.4" y="109.7" width="3" height="1.3" fill="#2a70f0" opacity="1"/><rect x="466.4" y="113.7" width="5" height="1.3" fill="#40c0f0" opacity="0.5"/><rect x="468.4" y="175.6" width="3" height="1.3" fill="#30b0f0" opacity="0.7"/><rect x="467.8" y="181.0" width="4" height="1.3" fill="#2a70f0" opacity="0.9"/><rect x="468.4" y="176.7" width="2" height="1.3" fill="#20c8e0" opacity="0.9"/><rect x="468.7" y="185.2" width="3" height="1.3" fill="#60d8f0" opacity="0.9"/><rect x="468.1" y="188.0" width="3" height="1.3" fill="#2a70f0" opacity="1"/><rect x="467.4" y="186.2" width="3" height="1.3" fill="#30b0f0" opacity="1"/><rect x="467.8" y="176.3" width="3" height="1.3" fill="#20c8e0" opacity="0.7"/><rect x="467.8" y="179.9" width="2" height="1.3" fill="#40c0f0" opacity="0.7"/><rect x="468.7" y="40" width="1" height="152" fill="#2050f0" opacity="0.5"/><rect x="479.9" y="71.9" width="3" height="1.3" fill="#60d8f0" opacity="1"/><rect x="478.2" y="80.0" width="5" height="1.3" fill="#60d8f0" opacity="0.9"/><rect x="478.8" y="42.4" width="4" height="1.3" fill="#20c8e0" opacity="0.7"/><rect x="481.3" y="69.3" width="2" height="1.3" fill="#2a70f0" opacity="0.5"/><rect x="478.5" y="78.2" width="5" height="1.3" fill="#40c0f0" opacity="1"/><rect x="479.2" y="61.1" width="3" height="1.3" fill="#30a0f0" opacity="0.9"/><rect x="478.8" y="81.7" width="4" height="1.3" fill="#40c0f0" opacity="1"/><rect x="480.3" y="56.3" width="3" height="1.3" fill="#40c0f0" opacity="0.7"/><rect x="480.8" y="50.9" width="3" height="1.3" fill="#40c0f0" opacity="0.9"/><rect x="481.0" y="44.3" width="3" height="1.3" fill="#2a70f0" opacity="0.7"/><rect x="479.8" y="54.7" width="2" height="1.3" fill="#40c0f0" opacity="0.7"/><rect x="479.7" y="69.4" width="3" height="1.3" fill="#60d8f0" opacity="0.7"/><rect x="480.5" y="78.3" width="4" height="1.3" fill="#60d8f0" opacity="1"/><rect x="480.2" y="58.9" width="3" height="1.3" fill="#60d8f0" opacity="0.9"/><rect x="480.4" y="57.1" width="2" height="1.3" fill="#2a70f0" opacity="0.7"/><rect x="480.7" y="40.1" width="3" height="1.3" fill="#60d8f0" opacity="0.7"/><rect x="480.3" y="72.0" width="3" height="1.3" fill="#40c0f0" opacity="0.5"/><rect x="479.3" y="64.8" width="3" height="1.3" fill="#30a0f0" opacity="0.5"/><rect x="481.0" y="83.1" width="2" height="1.3" fill="#30b0f0" opacity="1"/><rect x="478.5" y="46.6" width="5" height="1.3" fill="#40c0f0" opacity="0.7"/><rect x="479.7" y="43.8" width="2" height="1.3" fill="#20c8e0" opacity="0.7"/><rect x="479.1" y="70.7" width="5" height="1.3" fill="#30b0f0" opacity="1"/><rect x="479.9" y="69.2" width="4" height="1.3" fill="#40c0f0" opacity="0.7"/><rect x="479.3" y="40.1" width="3" height="1.3" fill="#20c8e0" opacity="1"/><rect x="479.7" y="41.4" width="5" height="1.3" fill="#20c8e0" opacity="0.9"/><rect x="479.5" y="55.9" width="2" height="1.3" fill="#30a0f0" opacity="1"/><rect x="479.9" y="110.6" width="3" height="1.3" fill="#20c8e0" opacity="0.7"/><rect x="480.0" y="105.8" width="2" height="1.3" fill="#40c0f0" opacity="0.7"/><rect x="481.5" y="108.7" width="2" height="1.3" fill="#30b0f0" opacity="0.9"/><rect x="478.2" y="103.8" width="5" height="1.3" fill="#30a0f0" opacity="0.9"/><rect x="478.4" y="108.5" width="5" height="1.3" fill="#40c0f0" opacity="0.7"/><rect x="480.3" y="111.1" width="3" height="1.3" fill="#20c8e0" opacity="1"/><rect x="479.3" y="113.8" width="5" height="1.3" fill="#60d8f0" opacity="1"/><rect x="479.6" y="187.4" width="3" height="1.3" fill="#30b0f0" opacity="0.5"/><rect x="479.0" y="189.9" width="5" height="1.3" fill="#30a0f0" opacity="1"/><rect x="478.7" y="178.6" width="5" height="1.3" fill="#30a0f0" opacity="0.7"/><rect x="479.6" y="191.0" width="2" height="1.3" fill="#2a70f0" opacity="1"/><rect x="478.5" y="187.4" width="4" height="1.3" fill="#2a70f0" opacity="0.5"/><rect x="481.3" y="184.2" width="2" height="1.3" fill="#20c8e0" opacity="1"/><rect x="480.0" y="173.9" width="3" height="1.3" fill="#40c0f0" opacity="1"/><rect x="479.8" y="187.0" width="3" height="1.3" fill="#40c0f0" opacity="0.5"/><rect x="481.0" y="40" width="1" height="152" fill="#2050f0" opacity="0.5"/><rect x="492.3" y="68.6" width="2" height="1.3" fill="#20c8e0" opacity="0.7"/><rect x="492.1" y="47.0" width="4" height="1.3" fill="#60d8f0" opacity="0.7"/><rect x="492.3" y="43.6" width="3" height="1.3" fill="#60d8f0" opacity="0.5"/><rect x="492.1" y="55.9" width="4" height="1.3" fill="#2a70f0" opacity="1"/><rect x="491.5" y="54.6" width="4" height="1.3" fill="#30b0f0" opacity="1"/><rect x="492.8" y="81.3" width="3" height="1.3" fill="#40c0f0" opacity="1"/><rect x="491.2" y="51.4" width="4" height="1.3" fill="#20c8e0" opacity="0.9"/><rect x="493.2" y="44.3" width="3" height="1.3" fill="#20c8e0" opacity="1"/><rect x="492.5" y="61.0" width="3" height="1.3" fill="#20c8e0" opacity="0.9"/><rect x="490.8" y="69.2" width="5" height="1.3" fill="#2a70f0" opacity="1"/><rect x="493.6" y="48.0" width="2" height="1.3" fill="#20c8e0" opacity="0.7"/><rect x="491.6" y="59.9" width="4" height="1.3" fill="#30b0f0" opacity="0.9"/><rect x="492.0" y="76.0" width="3" height="1.3" fill="#20c8e0" opacity="1"/><rect x="491.6" y="71.9" width="3" height="1.3" fill="#60d8f0" opacity="0.7"/><rect x="491.8" y="78.7" width="5" height="1.3" fill="#2a70f0" opacity="1"/><rect x="491.6" y="44.6" width="4" height="1.3" fill="#30b0f0" opacity="1"/><rect x="491.7" y="62.1" width="4" height="1.3" fill="#60d8f0" opacity="0.7"/><rect x="492.1" y="42.6" width="5" height="1.3" fill="#20c8e0" opacity="0.7"/><rect x="493.4" y="48.6" width="2" height="1.3" fill="#30a0f0" opacity="1"/><rect x="493.7" y="79.6" width="2" height="1.3" fill="#2a70f0" opacity="0.7"/><rect x="493.3" y="52.9" width="3" height="1.3" fill="#30b0f0" opacity="1"/><rect x="492.1" y="46.9" width="4" height="1.3" fill="#30b0f0" opacity="0.9"/><rect x="493.0" y="62.6" width="2" height="1.3" fill="#40c0f0" opacity="0.5"/><rect x="492.3" y="55.1" width="5" height="1.3" fill="#30b0f0" opacity="0.7"/><rect x="492.3" y="52.4" width="2" height="1.3" fill="#30a0f0" opacity="1"/><rect x="492.0" y="49.7" width="3" height="1.3" fill="#30a0f0" opacity="0.5"/><rect x="492.4" y="106.9" width="3" height="1.3" fill="#60d8f0" opacity="0.7"/><rect x="491.9" y="108.4" width="5" height="1.3" fill="#20c8e0" opacity="0.9"/><rect x="492.9" y="105.8" width="3" height="1.3" fill="#40c0f0" opacity="0.5"/><rect x="493.2" y="107.5" width="3" height="1.3" fill="#30a0f0" opacity="0.9"/><rect x="491.2" y="116.5" width="5" height="1.3" fill="#2a70f0" opacity="1"/><rect x="492.5" y="102.9" width="4" height="1.3" fill="#40c0f0" opacity="0.9"/><rect x="491.5" y="110.4" width="4" height="1.3" fill="#30a0f0" opacity="0.9"/><rect x="492.4" y="174.6" width="4" height="1.3" fill="#30b0f0" opacity="0.9"/><rect x="492.5" y="187.0" width="3" height="1.3" fill="#40c0f0" opacity="0.5"/><rect x="492.5" y="175.2" width="3" height="1.3" fill="#40c0f0" opacity="0.9"/><rect x="493.0" y="177.0" width="2" height="1.3" fill="#2a70f0" opacity="0.9"/><rect x="491.3" y="174.2" width="3" height="1.3" fill="#60d8f0" opacity="0.9"/><rect x="490.8" y="181.0" width="4" height="1.3" fill="#30a0f0" opacity="1"/><rect x="492.1" y="187.1" width="3" height="1.3" fill="#30b0f0" opacity="0.9"/><rect x="491.5" y="182.3" width="4" height="1.3" fill="#30b0f0" opacity="1"/><rect x="493.3" y="40" width="1" height="152" fill="#2050f0" opacity="0.5"/><rect x="505.1" y="56.1" width="2" height="1.3" fill="#60d8f0" opacity="0.9"/><rect x="503.2" y="61.8" width="4" height="1.3" fill="#2a70f0" opacity="1"/><rect x="504.9" y="53.4" width="3" height="1.3" fill="#60d8f0" opacity="0.5"/><rect x="504.3" y="47.6" width="3" height="1.3" fill="#40c0f0" opacity="0.5"/><rect x="505.6" y="40.2" width="3" height="1.3" fill="#40c0f0" opacity="0.5"/><rect x="504.4" y="42.3" width="4" height="1.3" fill="#30a0f0" opacity="0.5"/><rect x="505.2" y="62.1" width="3" height="1.3" fill="#20c8e0" opacity="1"/><rect x="503.3" y="84.0" width="4" height="1.3" fill="#20c8e0" opacity="0.5"/><rect x="504.7" y="73.6" width="2" height="1.3" fill="#30a0f0" opacity="0.5"/><rect x="505.5" y="69.1" width="2" height="1.3" fill="#30a0f0" opacity="0.5"/><rect x="503.3" y="41.7" width="5" height="1.3" fill="#20c8e0" opacity="0.7"/><rect x="504.0" y="59.6" width="5" height="1.3" fill="#40c0f0" opacity="0.9"/><rect x="504.0" y="40.6" width="3" height="1.3" fill="#20c8e0" opacity="0.5"/><rect x="504.5" y="65.8" width="3" height="1.3" fill="#20c8e0" opacity="0.9"/><rect x="504.8" y="63.0" width="4" height="1.3" fill="#30a0f0" opacity="0.9"/><rect x="504.5" y="52.4" width="3" height="1.3" fill="#30a0f0" opacity="0.9"/><rect x="503.2" y="57.2" width="5" height="1.3" fill="#20c8e0" opacity="0.9"/><rect x="503.7" y="55.2" width="3" height="1.3" fill="#40c0f0" opacity="0.9"/><rect x="504.4" y="80.8" width="3" height="1.3" fill="#60d8f0" opacity="1"/><rect x="504.4" y="82.2" width="4" height="1.3" fill="#30a0f0" opacity="0.5"/><rect x="504.9" y="40.3" width="3" height="1.3" fill="#30b0f0" opacity="0.5"/><rect x="503.7" y="60.2" width="5" height="1.3" fill="#40c0f0" opacity="1"/><rect x="505.3" y="72.8" width="3" height="1.3" fill="#40c0f0" opacity="0.5"/><rect x="504.5" y="43.2" width="4" height="1.3" fill="#30b0f0" opacity="1"/><rect x="505.5" y="48.9" width="3" height="1.3" fill="#20c8e0" opacity="0.7"/><rect x="505.5" y="79.9" width="3" height="1.3" fill="#2a70f0" opacity="0.7"/><rect x="504.2" y="112.0" width="3" height="1.3" fill="#30b0f0" opacity="0.5"/><rect x="502.6" y="112.6" width="5" height="1.3" fill="#20c8e0" opacity="0.5"/><rect x="504.9" y="109.0" width="4" height="1.3" fill="#60d8f0" opacity="0.5"/><rect x="504.8" y="112.2" width="3" height="1.3" fill="#30a0f0" opacity="1"/><rect x="503.1" y="109.9" width="5" height="1.3" fill="#30b0f0" opacity="0.9"/><rect x="504.8" y="105.2" width="2" height="1.3" fill="#40c0f0" opacity="0.5"/><rect x="504.8" y="102.1" width="2" height="1.3" fill="#30b0f0" opacity="0.7"/><rect x="504.6" y="176.1" width="3" height="1.3" fill="#60d8f0" opacity="0.7"/><rect x="504.1" y="182.2" width="5" height="1.3" fill="#2a70f0" opacity="0.5"/><rect x="504.7" y="177.1" width="3" height="1.3" fill="#30a0f0" opacity="0.9"/><rect x="503.9" y="179.3" width="3" height="1.3" fill="#60d8f0" opacity="1"/><rect x="504.9" y="180.7" width="4" height="1.3" fill="#2a70f0" opacity="1"/><rect x="503.4" y="188.1" width="5" height="1.3" fill="#2a70f0" opacity="0.9"/><rect x="504.9" y="179.6" width="2" height="1.3" fill="#30a0f0" opacity="0.5"/><rect x="504.8" y="173.8" width="4" height="1.3" fill="#30a0f0" opacity="0.5"/><rect x="505.6" y="40" width="1" height="152" fill="#2050f0" opacity="0.5"/><rect x="516.8" y="41.9" width="3" height="1.3" fill="#40c0f0" opacity="0.7"/><rect x="517.3" y="69.5" width="4" height="1.3" fill="#20c8e0" opacity="0.5"/><rect x="517.4" y="70.6" width="3" height="1.3" fill="#60d8f0" opacity="0.7"/><rect x="516.5" y="75.9" width="3" height="1.3" fill="#20c8e0" opacity="0.9"/><rect x="516.4" y="47.0" width="3" height="1.3" fill="#20c8e0" opacity="0.5"/><rect x="517.0" y="46.9" width="3" height="1.3" fill="#30a0f0" opacity="0.7"/><rect x="516.7" y="60.9" width="5" height="1.3" fill="#60d8f0" opacity="1"/><rect x="516.9" y="47.3" width="4" height="1.3" fill="#40c0f0" opacity="1"/><rect x="516.3" y="57.3" width="3" height="1.3" fill="#30b0f0" opacity="0.5"/><rect x="515.4" y="73.3" width="5" height="1.3" fill="#40c0f0" opacity="0.9"/><rect x="515.7" y="77.0" width="4" height="1.3" fill="#20c8e0" opacity="1"/><rect x="518.2" y="55.1" width="2" height="1.3" fill="#40c0f0" opacity="0.9"/><rect x="516.3" y="73.4" width="3" height="1.3" fill="#20c8e0" opacity="0.7"/><rect x="516.7" y="70.6" width="4" height="1.3" fill="#20c8e0" opacity="0.7"/><rect x="516.8" y="49.5" width="3" height="1.3" fill="#40c0f0" opacity="0.9"/><rect x="517.4" y="68.5" width="2" height="1.3" fill="#20c8e0" opacity="0.5"/><rect x="518.1" y="82.1" width="2" height="1.3" fill="#20c8e0" opacity="1"/><rect x="515.5" y="41.4" width="5" height="1.3" fill="#60d8f0" opacity="0.9"/><rect x="516.7" y="55.7" width="5" height="1.3" fill="#30a0f0" opacity="0.9"/><rect x="515.9" y="47.6" width="4" height="1.3" fill="#20c8e0" opacity="1"/><rect x="515.3" y="50.6" width="5" height="1.3" fill="#30b0f0" opacity="0.5"/><rect x="516.6" y="55.6" width="5" height="1.3" fill="#20c8e0" opacity="1"/><rect x="516.0" y="64.6" width="4" height="1.3" fill="#2a70f0" opacity="1"/><rect x="517.6" y="75.8" width="3" height="1.3" fill="#20c8e0" opacity="1"/><rect x="516.8" y="60.4" width="3" height="1.3" fill="#2a70f0" opacity="0.9"/><rect x="517.6" y="72.2" width="3" height="1.3" fill="#60d8f0" opacity="0.5"/><rect x="517.1" y="111.4" width="3" height="1.3" fill="#40c0f0" opacity="0.7"/><rect x="517.9" y="112.0" width="3" height="1.3" fill="#30b0f0" opacity="0.5"/><rect x="517.6" y="117.5" width="2" height="1.3" fill="#30a0f0" opacity="0.7"/><rect x="516.7" y="112.5" width="2" height="1.3" fill="#30a0f0" opacity="0.9"/><rect x="515.9" y="114.3" width="3" height="1.3" fill="#30b0f0" opacity="1"/><rect x="517.5" y="103.7" width="3" height="1.3" fill="#30a0f0" opacity="1"/><rect x="516.1" y="108.6" width="3" height="1.3" fill="#2a70f0" opacity="0.5"/><rect x="516.3" y="174.2" width="3" height="1.3" fill="#20c8e0" opacity="0.7"/><rect x="516.9" y="176.3" width="3" height="1.3" fill="#2a70f0" opacity="1"/><rect x="516.5" y="175.8" width="3" height="1.3" fill="#30a0f0" opacity="1"/><rect x="518.0" y="189.0" width="2" height="1.3" fill="#30a0f0" opacity="0.9"/><rect x="516.7" y="179.4" width="2" height="1.3" fill="#20c8e0" opacity="0.7"/><rect x="517.2" y="184.2" width="4" height="1.3" fill="#2a70f0" opacity="0.7"/><rect x="517.3" y="188.4" width="3" height="1.3" fill="#60d8f0" opacity="0.9"/><rect x="515.6" y="183.0" width="4" height="1.3" fill="#2a70f0" opacity="0.9"/><rect x="517.9" y="40" width="1" height="152" fill="#2050f0" opacity="0.5"/><rect x="528.5" y="51.0" width="4" height="1.3" fill="#30a0f0" opacity="0.5"/><rect x="528.5" y="77.5" width="5" height="1.3" fill="#30a0f0" opacity="0.7"/><rect x="527.5" y="78.8" width="5" height="1.3" fill="#40c0f0" opacity="0.5"/><rect x="527.9" y="75.2" width="4" height="1.3" fill="#2a70f0" opacity="1"/><rect x="527.9" y="50.3" width="4" height="1.3" fill="#20c8e0" opacity="0.7"/><rect x="529.3" y="80.8" width="2" height="1.3" fill="#30a0f0" opacity="0.7"/><rect x="528.8" y="66.7" width="3" height="1.3" fill="#30b0f0" opacity="1"/><rect x="528.7" y="76.6" width="2" height="1.3" fill="#40c0f0" opacity="0.5"/><rect x="529.2" y="55.8" width="2" height="1.3" fill="#2a70f0" opacity="0.7"/><rect x="529.5" y="41.2" width="3" height="1.3" fill="#20c8e0" opacity="1"/><rect x="527.8" y="77.6" width="4" height="1.3" fill="#20c8e0" opacity="1"/><rect x="528.5" y="55.1" width="5" height="1.3" fill="#40c0f0" opacity="0.7"/><rect x="527.5" y="43.0" width="5" height="1.3" fill="#40c0f0" opacity="1"/><rect x="528.5" y="51.3" width="5" height="1.3" fill="#30a0f0" opacity="1"/><rect x="528.9" y="82.5" width="4" height="1.3" fill="#40c0f0" opacity="0.5"/><rect x="528.6" y="81.6" width="5" height="1.3" fill="#60d8f0" opacity="0.9"/><rect x="528.1" y="48.6" width="5" height="1.3" fill="#20c8e0" opacity="1"/><rect x="528.5" y="69.0" width="3" height="1.3" fill="#20c8e0" opacity="0.7"/><rect x="527.5" y="70.1" width="5" height="1.3" fill="#2a70f0" opacity="0.7"/><rect x="529.4" y="82.9" width="3" height="1.3" fill="#20c8e0" opacity="1"/><rect x="529.7" y="57.5" width="4" height="1.3" fill="#60d8f0" opacity="0.9"/><rect x="530.0" y="63.5" width="3" height="1.3" fill="#2a70f0" opacity="0.9"/><rect x="528.2" y="43.5" width="4" height="1.3" fill="#60d8f0" opacity="1"/><rect x="530.4" y="60.4" width="2" height="1.3" fill="#30a0f0" opacity="1"/><rect x="528.9" y="71.3" width="4" height="1.3" fill="#30a0f0" opacity="0.5"/><rect x="528.8" y="71.5" width="3" height="1.3" fill="#20c8e0" opacity="1"/><rect x="527.3" y="113.8" width="5" height="1.3" fill="#40c0f0" opacity="0.9"/><rect x="528.3" y="111.5" width="3" height="1.3" fill="#20c8e0" opacity="0.5"/><rect x="529.4" y="108.6" width="4" height="1.3" fill="#60d8f0" opacity="1"/><rect x="529.5" y="108.9" width="2" height="1.3" fill="#30a0f0" opacity="0.5"/><rect x="528.1" y="115.9" width="4" height="1.3" fill="#2a70f0" opacity="0.7"/><rect x="528.4" y="113.2" width="3" height="1.3" fill="#20c8e0" opacity="0.9"/><rect x="528.8" y="111.1" width="3" height="1.3" fill="#20c8e0" opacity="0.5"/><rect x="527.9" y="184.5" width="5" height="1.3" fill="#40c0f0" opacity="1"/><rect x="529.5" y="173.0" width="4" height="1.3" fill="#20c8e0" opacity="0.5"/><rect x="530.3" y="190.0" width="2" height="1.3" fill="#2a70f0" opacity="0.7"/><rect x="528.7" y="183.5" width="2" height="1.3" fill="#30b0f0" opacity="1"/><rect x="529.5" y="188.3" width="3" height="1.3" fill="#30b0f0" opacity="0.7"/><rect x="527.8" y="177.5" width="4" height="1.3" fill="#60d8f0" opacity="0.5"/><rect x="529.6" y="188.6" width="3" height="1.3" fill="#2a70f0" opacity="0.7"/><rect x="527.7" y="178.6" width="5" height="1.3" fill="#2a70f0" opacity="1"/><rect x="530.2" y="40" width="1" height="152" fill="#2050f0" opacity="0.5"/><rect x="541.8" y="43.3" width="2" height="1.3" fill="#30b0f0" opacity="0.7"/><rect x="541.2" y="76.8" width="3" height="1.3" fill="#30a0f0" opacity="0.9"/><rect x="541.2" y="54.6" width="2" height="1.3" fill="#30a0f0" opacity="1"/><rect x="542.2" y="76.8" width="3" height="1.3" fill="#30a0f0" opacity="0.5"/><rect x="540.5" y="45.7" width="5" height="1.3" fill="#40c0f0" opacity="1"/><rect x="540.2" y="62.1" width="4" height="1.3" fill="#2a70f0" opacity="0.7"/><rect x="540.1" y="43.2" width="5" height="1.3" fill="#30a0f0" opacity="0.9"/><rect x="541.9" y="68.3" width="3" height="1.3" fill="#30a0f0" opacity="0.5"/><rect x="542.1" y="78.0" width="3" height="1.3" fill="#40c0f0" opacity="0.9"/><rect x="541.8" y="73.3" width="2" height="1.3" fill="#20c8e0" opacity="0.7"/><rect x="541.2" y="40.5" width="3" height="1.3" fill="#40c0f0" opacity="0.5"/><rect x="541.2" y="83.8" width="3" height="1.3" fill="#40c0f0" opacity="0.9"/><rect x="540.9" y="65.3" width="5" height="1.3" fill="#2a70f0" opacity="0.9"/><rect x="541.0" y="48.6" width="3" height="1.3" fill="#60d8f0" opacity="1"/><rect x="542.1" y="59.7" width="3" height="1.3" fill="#20c8e0" opacity="0.9"/><rect x="542.4" y="61.0" width="2" height="1.3" fill="#60d8f0" opacity="1"/><rect x="540.6" y="54.9" width="3" height="1.3" fill="#2a70f0" opacity="0.9"/><rect x="541.7" y="66.9" width="2" height="1.3" fill="#30a0f0" opacity="0.9"/><rect x="541.5" y="51.5" width="5" height="1.3" fill="#30b0f0" opacity="0.7"/><rect x="541.9" y="53.9" width="3" height="1.3" fill="#60d8f0" opacity="0.7"/><rect x="541.6" y="78.6" width="4" height="1.3" fill="#20c8e0" opacity="0.5"/><rect x="540.6" y="50.3" width="5" height="1.3" fill="#2a70f0" opacity="0.9"/><rect x="541.5" y="74.4" width="3" height="1.3" fill="#60d8f0" opacity="0.5"/><rect x="541.1" y="51.4" width="3" height="1.3" fill="#40c0f0" opacity="0.7"/><rect x="542.3" y="75.1" width="2" height="1.3" fill="#2a70f0" opacity="0.5"/><rect x="541.2" y="43.9" width="5" height="1.3" fill="#30a0f0" opacity="0.7"/><rect x="541.9" y="109.2" width="3" height="1.3" fill="#40c0f0" opacity="1"/><rect x="542.2" y="102.9" width="3" height="1.3" fill="#2a70f0" opacity="1"/><rect x="540.8" y="110.9" width="3" height="1.3" fill="#20c8e0" opacity="0.9"/><rect x="541.3" y="115.4" width="2" height="1.3" fill="#30a0f0" opacity="0.5"/><rect x="539.5" y="114.6" width="5" height="1.3" fill="#2a70f0" opacity="1"/><rect x="539.7" y="108.5" width="5" height="1.3" fill="#30b0f0" opacity="0.7"/><rect x="540.6" y="114.3" width="3" height="1.3" fill="#60d8f0" opacity="0.9"/><rect x="540.7" y="183.5" width="5" height="1.3" fill="#20c8e0" opacity="1"/><rect x="541.9" y="184.6" width="2" height="1.3" fill="#20c8e0" opacity="1"/><rect x="542.1" y="179.2" width="3" height="1.3" fill="#2a70f0" opacity="0.9"/><rect x="540.2" y="177.5" width="5" height="1.3" fill="#30b0f0" opacity="0.9"/><rect x="539.8" y="174.8" width="5" height="1.3" fill="#60d8f0" opacity="0.9"/><rect x="542.7" y="190.0" width="2" height="1.3" fill="#40c0f0" opacity="1"/><rect x="541.6" y="181.1" width="2" height="1.3" fill="#60d8f0" opacity="0.9"/><rect x="540.8" y="179.4" width="3" height="1.3" fill="#30a0f0" opacity="0.9"/><rect x="542.5" y="40" width="1" height="152" fill="#2050f0" opacity="0.5"/><rect x="552.9" y="50.5" width="3" height="1.3" fill="#60d8f0" opacity="0.9"/><rect x="552.4" y="40.7" width="5" height="1.3" fill="#30b0f0" opacity="1"/><rect x="552.8" y="65.6" width="4" height="1.3" fill="#20c8e0" opacity="1"/><rect x="552.8" y="60.0" width="5" height="1.3" fill="#2a70f0" opacity="1"/><rect x="553.5" y="48.1" width="3" height="1.3" fill="#30a0f0" opacity="0.9"/><rect x="553.3" y="48.5" width="3" height="1.3" fill="#60d8f0" opacity="1"/><rect x="554.0" y="81.9" width="3" height="1.3" fill="#2a70f0" opacity="0.5"/><rect x="553.5" y="43.9" width="5" height="1.3" fill="#20c8e0" opacity="0.9"/><rect x="554.0" y="59.0" width="2" height="1.3" fill="#30a0f0" opacity="0.5"/><rect x="553.9" y="44.9" width="3" height="1.3" fill="#60d8f0" opacity="0.7"/><rect x="553.6" y="69.7" width="4" height="1.3" fill="#40c0f0" opacity="0.7"/><rect x="554.2" y="54.0" width="3" height="1.3" fill="#40c0f0" opacity="0.9"/><rect x="553.1" y="63.6" width="3" height="1.3" fill="#40c0f0" opacity="0.9"/><rect x="553.6" y="79.8" width="3" height="1.3" fill="#20c8e0" opacity="0.7"/><rect x="554.1" y="55.9" width="4" height="1.3" fill="#2a70f0" opacity="0.5"/><rect x="553.0" y="58.9" width="4" height="1.3" fill="#30b0f0" opacity="1"/><rect x="553.1" y="80.7" width="3" height="1.3" fill="#2a70f0" opacity="0.9"/><rect x="555.0" y="80.0" width="2" height="1.3" fill="#2a70f0" opacity="0.5"/><rect x="551.8" y="56.4" width="5" height="1.3" fill="#30b0f0" opacity="0.9"/><rect x="553.4" y="76.8" width="3" height="1.3" fill="#40c0f0" opacity="1"/><rect x="553.1" y="73.0" width="4" height="1.3" fill="#30a0f0" opacity="0.9"/><rect x="554.7" y="55.8" width="3" height="1.3" fill="#20c8e0" opacity="1"/><rect x="553.1" y="50.4" width="3" height="1.3" fill="#60d8f0" opacity="0.7"/><rect x="553.4" y="74.1" width="3" height="1.3" fill="#20c8e0" opacity="1"/><rect x="552.6" y="74.6" width="5" height="1.3" fill="#30b0f0" opacity="0.5"/><rect x="552.4" y="56.6" width="4" height="1.3" fill="#40c0f0" opacity="0.7"/><rect x="554.3" y="103.4" width="3" height="1.3" fill="#2a70f0" opacity="0.7"/><rect x="554.2" y="116.3" width="4" height="1.3" fill="#30a0f0" opacity="1"/><rect x="554.8" y="112.7" width="2" height="1.3" fill="#2a70f0" opacity="1"/><rect x="553.5" y="116.6" width="4" height="1.3" fill="#40c0f0" opacity="0.5"/><rect x="552.4" y="103.9" width="5" height="1.3" fill="#40c0f0" opacity="0.9"/><rect x="555.0" y="106.0" width="2" height="1.3" fill="#60d8f0" opacity="0.9"/><rect x="554.4" y="113.4" width="2" height="1.3" fill="#30b0f0" opacity="0.9"/><rect x="553.1" y="179.8" width="5" height="1.3" fill="#20c8e0" opacity="1"/><rect x="554.0" y="187.6" width="2" height="1.3" fill="#40c0f0" opacity="0.9"/><rect x="552.9" y="184.3" width="4" height="1.3" fill="#60d8f0" opacity="0.7"/><rect x="553.0" y="178.0" width="3" height="1.3" fill="#20c8e0" opacity="1"/><rect x="553.4" y="182.2" width="5" height="1.3" fill="#30a0f0" opacity="0.9"/><rect x="553.4" y="174.5" width="5" height="1.3" fill="#20c8e0" opacity="0.9"/><rect x="552.8" y="178.5" width="3" height="1.3" fill="#60d8f0" opacity="0.7"/><rect x="552.9" y="174.5" width="5" height="1.3" fill="#20c8e0" opacity="1"/><rect x="554.8" y="40" width="1" height="152" fill="#2050f0" opacity="0.5"/><rect x="565.2" y="45.1" width="5" height="1.3" fill="#2a70f0" opacity="0.7"/><rect x="565.3" y="61.7" width="4" height="1.3" fill="#20c8e0" opacity="0.9"/><rect x="565.6" y="72.3" width="5" height="1.3" fill="#30b0f0" opacity="0.5"/><rect x="565.4" y="75.7" width="4" height="1.3" fill="#30a0f0" opacity="0.7"/><rect x="567.1" y="48.8" width="2" height="1.3" fill="#40c0f0" opacity="0.9"/><rect x="565.8" y="41.9" width="2" height="1.3" fill="#40c0f0" opacity="0.9"/><rect x="565.8" y="63.1" width="4" height="1.3" fill="#30a0f0" opacity="0.9"/><rect x="566.4" y="64.2" width="3" height="1.3" fill="#30b0f0" opacity="1"/><rect x="564.9" y="79.9" width="5" height="1.3" fill="#30b0f0" opacity="0.7"/><rect x="565.5" y="51.3" width="5" height="1.3" fill="#30b0f0" opacity="1"/><rect x="566.7" y="80.1" width="2" height="1.3" fill="#2a70f0" opacity="1"/><rect x="566.6" y="79.6" width="2" height="1.3" fill="#2a70f0" opacity="0.9"/><rect x="565.2" y="51.3" width="5" height="1.3" fill="#40c0f0" opacity="0.7"/><rect x="565.7" y="44.3" width="4" height="1.3" fill="#60d8f0" opacity="1"/><rect x="565.5" y="74.4" width="5" height="1.3" fill="#60d8f0" opacity="0.9"/><rect x="565.9" y="61.7" width="5" height="1.3" fill="#2a70f0" opacity="0.5"/><rect x="566.0" y="50.5" width="4" height="1.3" fill="#40c0f0" opacity="1"/><rect x="565.9" y="46.7" width="5" height="1.3" fill="#40c0f0" opacity="0.9"/><rect x="567.1" y="79.7" width="3" height="1.3" fill="#2a70f0" opacity="1"/><rect x="566.4" y="44.0" width="2" height="1.3" fill="#60d8f0" opacity="0.7"/><rect x="566.7" y="75.2" width="3" height="1.3" fill="#20c8e0" opacity="1"/><rect x="566.3" y="41.8" width="3" height="1.3" fill="#20c8e0" opacity="0.5"/><rect x="564.7" y="78.1" width="5" height="1.3" fill="#2a70f0" opacity="0.5"/><rect x="567.0" y="81.0" width="3" height="1.3" fill="#30a0f0" opacity="1"/><rect x="566.6" y="78.8" width="2" height="1.3" fill="#30b0f0" opacity="0.9"/><rect x="565.5" y="43.4" width="3" height="1.3" fill="#2a70f0" opacity="0.7"/><rect x="564.7" y="111.6" width="4" height="1.3" fill="#2a70f0" opacity="0.5"/><rect x="565.4" y="109.0" width="3" height="1.3" fill="#30b0f0" opacity="0.7"/><rect x="566.4" y="117.0" width="3" height="1.3" fill="#20c8e0" opacity="1"/><rect x="567.1" y="109.3" width="3" height="1.3" fill="#60d8f0" opacity="0.9"/><rect x="566.7" y="113.3" width="2" height="1.3" fill="#30b0f0" opacity="1"/><rect x="564.1" y="103.6" width="5" height="1.3" fill="#40c0f0" opacity="0.7"/><rect x="566.9" y="115.0" width="3" height="1.3" fill="#30a0f0" opacity="0.5"/><rect x="565.6" y="177.8" width="3" height="1.3" fill="#20c8e0" opacity="1"/><rect x="565.2" y="182.3" width="5" height="1.3" fill="#40c0f0" opacity="0.5"/><rect x="566.8" y="184.3" width="3" height="1.3" fill="#60d8f0" opacity="0.7"/><rect x="565.9" y="173.4" width="3" height="1.3" fill="#30b0f0" opacity="0.7"/><rect x="565.3" y="173.4" width="3" height="1.3" fill="#40c0f0" opacity="1"/><rect x="567.0" y="191.0" width="3" height="1.3" fill="#40c0f0" opacity="1"/><rect x="565.3" y="176.9" width="3" height="1.3" fill="#2a70f0" opacity="0.7"/><rect x="567.4" y="174.6" width="2" height="1.3" fill="#30a0f0" opacity="1"/><rect x="567.1" y="40" width="1" height="152" fill="#2050f0" opacity="0.5"/><rect x="579.2" y="49.5" width="3" height="1.3" fill="#60d8f0" opacity="0.7"/><rect x="578.0" y="65.0" width="3" height="1.3" fill="#2a70f0" opacity="0.7"/><rect x="578.9" y="82.3" width="4" height="1.3" fill="#40c0f0" opacity="0.5"/><rect x="577.1" y="48.3" width="5" height="1.3" fill="#40c0f0" opacity="1"/><rect x="577.4" y="77.5" width="5" height="1.3" fill="#40c0f0" opacity="1"/><rect x="578.7" y="64.2" width="2" height="1.3" fill="#40c0f0" opacity="0.5"/><rect x="579.2" y="75.7" width="2" height="1.3" fill="#30a0f0" opacity="0.7"/><rect x="577.8" y="45.8" width="3" height="1.3" fill="#2a70f0" opacity="0.5"/><rect x="577.5" y="50.3" width="4" height="1.3" fill="#2a70f0" opacity="0.5"/><rect x="578.0" y="73.5" width="4" height="1.3" fill="#60d8f0" opacity="0.9"/><rect x="578.3" y="72.5" width="3" height="1.3" fill="#40c0f0" opacity="1"/><rect x="578.5" y="79.4" width="3" height="1.3" fill="#60d8f0" opacity="0.7"/><rect x="578.4" y="66.5" width="3" height="1.3" fill="#30b0f0" opacity="0.5"/><rect x="579.1" y="63.2" width="3" height="1.3" fill="#20c8e0" opacity="0.7"/><rect x="577.5" y="83.3" width="3" height="1.3" fill="#30b0f0" opacity="0.7"/><rect x="578.1" y="77.8" width="3" height="1.3" fill="#30b0f0" opacity="0.9"/><rect x="578.5" y="52.9" width="2" height="1.3" fill="#40c0f0" opacity="0.7"/><rect x="578.2" y="63.4" width="3" height="1.3" fill="#60d8f0" opacity="1"/><rect x="578.2" y="70.0" width="3" height="1.3" fill="#20c8e0" opacity="1"/><rect x="578.7" y="48.5" width="3" height="1.3" fill="#40c0f0" opacity="0.5"/><rect x="578.3" y="43.0" width="4" height="1.3" fill="#2a70f0" opacity="0.5"/><rect x="577.8" y="74.4" width="3" height="1.3" fill="#20c8e0" opacity="0.9"/><rect x="578.5" y="49.6" width="2" height="1.3" fill="#20c8e0" opacity="0.9"/><rect x="577.7" y="75.0" width="3" height="1.3" fill="#2a70f0" opacity="1"/><rect x="577.8" y="77.3" width="3" height="1.3" fill="#40c0f0" opacity="0.9"/><rect x="578.8" y="59.3" width="3" height="1.3" fill="#60d8f0" opacity="0.9"/><rect x="577.7" y="105.5" width="3" height="1.3" fill="#40c0f0" opacity="0.5"/><rect x="578.2" y="110.0" width="5" height="1.3" fill="#20c8e0" opacity="0.9"/><rect x="578.2" y="114.1" width="4" height="1.3" fill="#20c8e0" opacity="1"/><rect x="578.3" y="107.5" width="3" height="1.3" fill="#2a70f0" opacity="1"/><rect x="577.7" y="115.8" width="3" height="1.3" fill="#30b0f0" opacity="0.5"/><rect x="576.7" y="116.7" width="5" height="1.3" fill="#2a70f0" opacity="0.5"/><rect x="578.0" y="117.4" width="3" height="1.3" fill="#30a0f0" opacity="0.7"/><rect x="579.0" y="175.6" width="3" height="1.3" fill="#60d8f0" opacity="0.9"/><rect x="577.7" y="179.5" width="3" height="1.3" fill="#2a70f0" opacity="0.9"/><rect x="579.0" y="187.6" width="3" height="1.3" fill="#20c8e0" opacity="0.9"/><rect x="577.5" y="181.5" width="4" height="1.3" fill="#60d8f0" opacity="1"/><rect x="579.3" y="188.8" width="3" height="1.3" fill="#2a70f0" opacity="1"/><rect x="578.5" y="175.9" width="4" height="1.3" fill="#20c8e0" opacity="1"/><rect x="579.3" y="178.3" width="3" height="1.3" fill="#2a70f0" opacity="0.7"/><rect x="578.7" y="179.1" width="4" height="1.3" fill="#30b0f0" opacity="0.9"/><rect x="579.4" y="40" width="1" height="152" fill="#2050f0" opacity="0.5"/><rect x="590.5" y="73.6" width="5" height="1.3" fill="#30a0f0" opacity="0.5"/><rect x="590.2" y="67.0" width="4" height="1.3" fill="#60d8f0" opacity="0.5"/><rect x="590.5" y="51.3" width="2" height="1.3" fill="#60d8f0" opacity="0.7"/><rect x="590.4" y="81.0" width="4" height="1.3" fill="#60d8f0" opacity="0.5"/><rect x="590.0" y="80.4" width="3" height="1.3" fill="#40c0f0" opacity="0.9"/><rect x="590.7" y="53.9" width="2" height="1.3" fill="#30a0f0" opacity="0.7"/><rect x="590.9" y="62.4" width="2" height="1.3" fill="#60d8f0" opacity="0.7"/><rect x="590.6" y="70.3" width="4" height="1.3" fill="#2a70f0" opacity="1"/><rect x="591.7" y="44.1" width="3" height="1.3" fill="#30a0f0" opacity="0.9"/><rect x="589.0" y="69.4" width="5" height="1.3" fill="#2a70f0" opacity="0.5"/><rect x="590.1" y="43.1" width="3" height="1.3" fill="#30b0f0" opacity="0.5"/><rect x="590.3" y="50.8" width="3" height="1.3" fill="#30a0f0" opacity="1"/><rect x="591.6" y="62.2" width="3" height="1.3" fill="#60d8f0" opacity="0.7"/><rect x="591.3" y="71.7" width="2" height="1.3" fill="#30b0f0" opacity="0.7"/><rect x="591.3" y="42.8" width="3" height="1.3" fill="#20c8e0" opacity="0.7"/><rect x="591.1" y="45.8" width="2" height="1.3" fill="#60d8f0" opacity="0.9"/><rect x="590.9" y="41.1" width="2" height="1.3" fill="#2a70f0" opacity="0.7"/><rect x="592.2" y="69.8" width="2" height="1.3" fill="#60d8f0" opacity="0.5"/><rect x="590.9" y="78.2" width="4" height="1.3" fill="#60d8f0" opacity="0.5"/><rect x="590.8" y="50.8" width="4" height="1.3" fill="#20c8e0" opacity="0.5"/><rect x="590.6" y="70.4" width="2" height="1.3" fill="#30b0f0" opacity="0.5"/><rect x="591.7" y="51.1" width="3" height="1.3" fill="#20c8e0" opacity="0.9"/><rect x="589.8" y="60.8" width="5" height="1.3" fill="#40c0f0" opacity="1"/><rect x="589.6" y="73.0" width="5" height="1.3" fill="#2a70f0" opacity="1"/><rect x="589.3" y="65.8" width="5" height="1.3" fill="#60d8f0" opacity="1"/><rect x="590.5" y="69.7" width="3" height="1.3" fill="#60d8f0" opacity="0.7"/><rect x="590.3" y="104.7" width="4" height="1.3" fill="#20c8e0" opacity="0.9"/><rect x="589.7" y="109.0" width="3" height="1.3" fill="#30b0f0" opacity="1"/><rect x="590.0" y="103.0" width="3" height="1.3" fill="#60d8f0" opacity="1"/><rect x="590.2" y="110.6" width="3" height="1.3" fill="#30a0f0" opacity="0.5"/><rect x="591.4" y="117.7" width="3" height="1.3" fill="#60d8f0" opacity="0.7"/><rect x="589.8" y="115.7" width="5" height="1.3" fill="#30a0f0" opacity="0.5"/><rect x="589.0" y="102.8" width="5" height="1.3" fill="#30a0f0" opacity="0.7"/><rect x="591.3" y="184.6" width="3" height="1.3" fill="#60d8f0" opacity="0.9"/><rect x="590.7" y="190.0" width="2" height="1.3" fill="#2a70f0" opacity="0.9"/><rect x="591.7" y="186.5" width="3" height="1.3" fill="#30a0f0" opacity="0.9"/><rect x="589.9" y="185.9" width="3" height="1.3" fill="#30b0f0" opacity="1"/><rect x="589.3" y="176.9" width="4" height="1.3" fill="#2a70f0" opacity="0.7"/><rect x="591.3" y="181.7" width="2" height="1.3" fill="#60d8f0" opacity="0.5"/><rect x="589.8" y="181.6" width="3" height="1.3" fill="#20c8e0" opacity="1"/><rect x="591.4" y="174.3" width="3" height="1.3" fill="#30b0f0" opacity="0.5"/><rect x="591.7" y="40" width="1" height="152" fill="#2050f0" opacity="0.5"/><rect x="602.2" y="77.2" width="3" height="1.3" fill="#20c8e0" opacity="0.7"/><rect x="602.9" y="57.6" width="2" height="1.3" fill="#40c0f0" opacity="0.9"/><rect x="602.9" y="76.3" width="3" height="1.3" fill="#30b0f0" opacity="0.9"/><rect x="602.8" y="76.2" width="2" height="1.3" fill="#30a0f0" opacity="1"/><rect x="603.3" y="59.6" width="4" height="1.3" fill="#30a0f0" opacity="0.9"/><rect x="604.3" y="80.6" width="2" height="1.3" fill="#30b0f0" opacity="0.9"/><rect x="603.8" y="53.1" width="3" height="1.3" fill="#60d8f0" opacity="0.9"/><rect x="602.7" y="72.7" width="3" height="1.3" fill="#40c0f0" opacity="1"/><rect x="602.2" y="59.8" width="3" height="1.3" fill="#30b0f0" opacity="0.5"/><rect x="602.6" y="55.2" width="5" height="1.3" fill="#40c0f0" opacity="0.5"/><rect x="603.0" y="72.7" width="4" height="1.3" fill="#2a70f0" opacity="0.9"/><rect x="603.0" y="51.6" width="2" height="1.3" fill="#20c8e0" opacity="0.7"/><rect x="603.2" y="64.0" width="2" height="1.3" fill="#60d8f0" opacity="0.5"/><rect x="602.9" y="46.9" width="2" height="1.3" fill="#40c0f0" opacity="0.7"/><rect x="603.4" y="68.4" width="3" height="1.3" fill="#2a70f0" opacity="1"/><rect x="602.6" y="41.8" width="2" height="1.3" fill="#40c0f0" opacity="0.5"/><rect x="602.9" y="41.6" width="3" height="1.3" fill="#20c8e0" opacity="1"/><rect x="602.4" y="77.8" width="3" height="1.3" fill="#30b0f0" opacity="1"/><rect x="601.3" y="53.4" width="5" height="1.3" fill="#20c8e0" opacity="0.7"/><rect x="602.6" y="60.2" width="5" height="1.3" fill="#2a70f0" opacity="0.9"/><rect x="603.1" y="78.7" width="4" height="1.3" fill="#2a70f0" opacity="0.7"/><rect x="601.9" y="82.2" width="5" height="1.3" fill="#60d8f0" opacity="1"/><rect x="601.5" y="81.2" width="5" height="1.3" fill="#40c0f0" opacity="0.9"/><rect x="602.4" y="81.7" width="3" height="1.3" fill="#30a0f0" opacity="0.7"/><rect x="602.6" y="60.9" width="3" height="1.3" fill="#60d8f0" opacity="0.7"/><rect x="603.3" y="42.3" width="2" height="1.3" fill="#2a70f0" opacity="0.5"/><rect x="602.6" y="110.2" width="3" height="1.3" fill="#60d8f0" opacity="0.7"/><rect x="603.7" y="108.9" width="3" height="1.3" fill="#30a0f0" opacity="0.9"/><rect x="602.1" y="102.2" width="3" height="1.3" fill="#30b0f0" opacity="0.9"/><rect x="603.4" y="112.8" width="4" height="1.3" fill="#30b0f0" opacity="0.9"/><rect x="601.6" y="108.3" width="4" height="1.3" fill="#60d8f0" opacity="0.7"/><rect x="602.3" y="104.4" width="5" height="1.3" fill="#30b0f0" opacity="0.9"/><rect x="602.8" y="105.0" width="5" height="1.3" fill="#40c0f0" opacity="0.5"/><rect x="603.8" y="179.6" width="3" height="1.3" fill="#20c8e0" opacity="1"/><rect x="602.9" y="177.5" width="2" height="1.3" fill="#60d8f0" opacity="0.9"/><rect x="601.5" y="177.3" width="4" height="1.3" fill="#40c0f0" opacity="0.5"/><rect x="602.7" y="173.3" width="4" height="1.3" fill="#30a0f0" opacity="0.7"/><rect x="602.9" y="173.7" width="3" height="1.3" fill="#60d8f0" opacity="0.7"/><rect x="601.0" y="180.8" width="5" height="1.3" fill="#40c0f0" opacity="0.5"/><rect x="603.6" y="177.1" width="3" height="1.3" fill="#30a0f0" opacity="0.5"/><rect x="603.0" y="182.0" width="2" height="1.3" fill="#30b0f0" opacity="0.7"/><rect x="604.0" y="40" width="1" height="152" fill="#2050f0" opacity="0.5"/><rect x="614.9" y="58.6" width="2" height="1.3" fill="#2a70f0" opacity="0.7"/><rect x="614.9" y="82.8" width="5" height="1.3" fill="#20c8e0" opacity="0.7"/><rect x="614.5" y="52.1" width="4" height="1.3" fill="#30b0f0" opacity="0.5"/><rect x="615.4" y="64.5" width="2" height="1.3" fill="#60d8f0" opacity="0.5"/><rect x="615.1" y="40.3" width="2" height="1.3" fill="#20c8e0" opacity="0.9"/><rect x="615.7" y="80.2" width="3" height="1.3" fill="#40c0f0" opacity="0.7"/><rect x="615.9" y="54.5" width="3" height="1.3" fill="#40c0f0" opacity="1"/><rect x="616.2" y="70.4" width="2" height="1.3" fill="#30a0f0" opacity="1"/><rect x="615.7" y="43.6" width="3" height="1.3" fill="#40c0f0" opacity="0.5"/><rect x="616.2" y="48.1" width="2" height="1.3" fill="#30a0f0" opacity="0.9"/><rect x="615.0" y="45.4" width="3" height="1.3" fill="#20c8e0" opacity="0.7"/><rect x="615.6" y="69.4" width="4" height="1.3" fill="#30b0f0" opacity="1"/><rect x="614.8" y="68.6" width="3" height="1.3" fill="#2a70f0" opacity="1"/><rect x="615.2" y="73.3" width="3" height="1.3" fill="#2a70f0" opacity="0.7"/><rect x="615.0" y="43.0" width="5" height="1.3" fill="#60d8f0" opacity="0.5"/><rect x="615.5" y="76.7" width="2" height="1.3" fill="#40c0f0" opacity="1"/><rect x="614.4" y="79.9" width="3" height="1.3" fill="#20c8e0" opacity="0.5"/><rect x="616.5" y="41.0" width="2" height="1.3" fill="#60d8f0" opacity="0.9"/><rect x="615.4" y="77.6" width="4" height="1.3" fill="#60d8f0" opacity="0.5"/><rect x="614.4" y="77.6" width="5" height="1.3" fill="#20c8e0" opacity="1"/><rect x="615.9" y="62.0" width="3" height="1.3" fill="#60d8f0" opacity="0.5"/><rect x="614.5" y="65.8" width="3" height="1.3" fill="#2a70f0" opacity="0.5"/><rect x="616.0" y="77.6" width="3" height="1.3" fill="#30a0f0" opacity="0.9"/><rect x="615.4" y="73.7" width="3" height="1.3" fill="#30a0f0" opacity="0.9"/><rect x="616.1" y="55.6" width="2" height="1.3" fill="#60d8f0" opacity="1"/><rect x="614.0" y="54.8" width="5" height="1.3" fill="#60d8f0" opacity="0.5"/><rect x="615.1" y="114.8" width="3" height="1.3" fill="#20c8e0" opacity="0.9"/><rect x="615.3" y="109.3" width="3" height="1.3" fill="#2a70f0" opacity="0.9"/><rect x="615.1" y="104.0" width="2" height="1.3" fill="#30b0f0" opacity="0.5"/><rect x="615.5" y="104.0" width="2" height="1.3" fill="#2a70f0" opacity="0.5"/><rect x="615.2" y="102.9" width="3" height="1.3" fill="#40c0f0" opacity="1"/><rect x="616.8" y="110.7" width="2" height="1.3" fill="#2a70f0" opacity="0.7"/><rect x="614.9" y="113.5" width="3" height="1.3" fill="#30a0f0" opacity="1"/><rect x="614.4" y="175.6" width="3" height="1.3" fill="#40c0f0" opacity="0.7"/><rect x="616.0" y="189.4" width="2" height="1.3" fill="#30a0f0" opacity="0.9"/><rect x="614.0" y="177.1" width="5" height="1.3" fill="#40c0f0" opacity="0.5"/><rect x="615.2" y="176.2" width="4" height="1.3" fill="#30b0f0" opacity="1"/><rect x="615.4" y="182.3" width="3" height="1.3" fill="#30b0f0" opacity="0.9"/><rect x="614.9" y="190.2" width="3" height="1.3" fill="#30b0f0" opacity="0.5"/><rect x="614.9" y="180.2" width="3" height="1.3" fill="#40c0f0" opacity="0.9"/><rect x="614.3" y="180.6" width="4" height="1.3" fill="#40c0f0" opacity="0.9"/><rect x="616.3" y="40" width="1" height="152" fill="#2050f0" opacity="0.5"/><rect x="225" y="87" width="47" height="13.5" fill="url(#bBl)"/><rect x="492" y="87" width="43" height="13.5" fill="url(#bBr)"/><rect x="271" y="87" width="221" height="13.5" fill="url(#bBv)"/><rect x="272.0" y="88" width="1.4" height="6" fill="#f09000" opacity="0.55"/><rect x="275.2" y="88" width="1.4" height="6" fill="#f09000" opacity="0.55"/><rect x="280.0" y="88" width="1.4" height="6" fill="#f09000" opacity="0.55"/><rect x="286.4" y="88" width="1.4" height="6" fill="#f09000" opacity="0.55"/><rect x="292.8" y="88" width="1.4" height="6" fill="#f09000" opacity="0.55"/><rect x="297.6" y="88" width="1.4" height="6" fill="#f09000" opacity="0.55"/><rect x="304.0" y="88" width="1.4" height="6" fill="#f09000" opacity="0.55"/><rect x="308.0" y="88" width="1.4" height="6" fill="#f09000" opacity="0.55"/><rect x="312.8" y="88" width="1.4" height="6" fill="#f09000" opacity="0.55"/><rect x="316.8" y="88" width="1.4" height="6" fill="#f09000" opacity="0.55"/><rect x="320.8" y="88" width="1.4" height="6" fill="#f09000" opacity="0.55"/><rect x="326.4" y="88" width="1.4" height="6" fill="#f09000" opacity="0.55"/><rect x="332.8" y="88" width="1.4" height="6" fill="#f09000" opacity="0.55"/><rect x="339.2" y="88" width="1.4" height="6" fill="#f09000" opacity="0.55"/><rect x="345.6" y="88" width="1.4" height="6" fill="#f09000" opacity="0.55"/><rect x="348.8" y="88" width="1.4" height="6" fill="#f09000" opacity="0.55"/><rect x="353.6" y="88" width="1.4" height="6" fill="#f09000" opacity="0.55"/><rect x="356.8" y="88" width="1.4" height="6" fill="#f09000" opacity="0.55"/><rect x="362.4" y="88" width="1.4" height="6" fill="#f09000" opacity="0.55"/><rect x="367.2" y="88" width="1.4" height="6" fill="#f09000" opacity="0.55"/><rect x="372.8" y="88" width="1.4" height="6" fill="#f09000" opacity="0.55"/><rect x="377.6" y="88" width="1.4" height="6" fill="#f09000" opacity="0.55"/><rect x="382.4" y="88" width="1.4" height="6" fill="#f09000" opacity="0.55"/><rect x="388.0" y="88" width="1.4" height="6" fill="#f09000" opacity="0.55"/><rect x="393.6" y="88" width="1.4" height="6" fill="#f09000" opacity="0.55"/><rect x="400.0" y="88" width="1.4" height="6" fill="#f09000" opacity="0.55"/><rect x="406.4" y="88" width="1.4" height="6" fill="#f09000" opacity="0.55"/><rect x="412.0" y="88" width="1.4" height="6" fill="#f09000" opacity="0.55"/><rect x="417.6" y="88" width="1.4" height="6" fill="#f09000" opacity="0.55"/><rect x="422.4" y="88" width="1.4" height="6" fill="#f09000" opacity="0.55"/><rect x="428.0" y="88" width="1.4" height="6" fill="#f09000" opacity="0.55"/><rect x="432.0" y="88" width="1.4" height="6" fill="#f09000" opacity="0.55"/><rect x="435.2" y="88" width="1.4" height="6" fill="#f09000" opacity="0.55"/><rect x="440.8" y="88" width="1.4" height="6" fill="#f09000" opacity="0.55"/><rect x="444.8" y="88" width="1.4" height="6" fill="#f09000" opacity="0.55"/><rect x="451.2" y="88" width="1.4" height="6" fill="#f09000" opacity="0.55"/><rect x="456.8" y="88" width="1.4" height="6" fill="#f09000" opacity="0.55"/><rect x="463.2" y="88" width="1.4" height="6" fill="#f09000" opacity="0.55"/><rect x="467.2" y="88" width="1.4" height="6" fill="#f09000" opacity="0.55"/><rect x="471.2" y="88" width="1.4" height="6" fill="#f09000" opacity="0.55"/><rect x="477.6" y="88" width="1.4" height="6" fill="#f09000" opacity="0.55"/><rect x="481.6" y="88" width="1.4" height="6" fill="#f09000" opacity="0.55"/><rect x="485.6" y="88" width="1.4" height="6" fill="#f09000" opacity="0.55"/><rect x="255" y="100.5" width="375" height="1.3" fill="#0810a0" opacity="0.8"/><rect x="195" y="118.5" width="78" height="26" fill="url(#bDl)"/><rect x="492" y="118.5" width="53" height="26" fill="url(#bDr)"/><rect x="272" y="118.5" width="220" height="26" fill="url(#bDv)"/><rect x="274.0" y="118.5" width="1.6" height="26" fill="#f07000" opacity="0.7"/><rect x="277.2" y="118.5" width="1.6" height="26" fill="#f07000" opacity="0.7"/><rect x="280.4" y="118.5" width="1.6" height="26" fill="#f07000" opacity="0.7"/><rect x="286.0" y="118.5" width="1.6" height="26" fill="#f07000" opacity="0.7"/><rect x="291.6" y="118.5" width="1.6" height="26" fill="#f07000" opacity="0.7"/><rect x="294.8" y="118.5" width="1.6" height="26" fill="#f07000" opacity="0.7"/><rect x="299.6" y="118.5" width="1.6" height="26" fill="#f07000" opacity="0.7"/><rect x="303.6" y="118.5" width="1.6" height="26" fill="#f07000" opacity="0.7"/><rect x="309.2" y="118.5" width="1.6" height="26" fill="#f07000" opacity="0.7"/><rect x="313.2" y="118.5" width="1.6" height="26" fill="#f07000" opacity="0.7"/><rect x="318.8" y="118.5" width="1.6" height="26" fill="#f07000" opacity="0.7"/><rect x="323.6" y="118.5" width="1.6" height="26" fill="#f07000" opacity="0.7"/><rect x="328.4" y="118.5" width="1.6" height="26" fill="#f07000" opacity="0.7"/><rect x="332.4" y="118.5" width="1.6" height="26" fill="#f07000" opacity="0.7"/><rect x="337.2" y="118.5" width="1.6" height="26" fill="#f07000" opacity="0.7"/><rect x="341.2" y="118.5" width="1.6" height="26" fill="#f07000" opacity="0.7"/><rect x="344.4" y="118.5" width="1.6" height="26" fill="#f07000" opacity="0.7"/><rect x="349.2" y="118.5" width="1.6" height="26" fill="#f07000" opacity="0.7"/><rect x="354.0" y="118.5" width="1.6" height="26" fill="#f07000" opacity="0.7"/><rect x="357.2" y="118.5" width="1.6" height="26" fill="#f07000" opacity="0.7"/><rect x="361.2" y="118.5" width="1.6" height="26" fill="#f07000" opacity="0.7"/><rect x="366.0" y="118.5" width="1.6" height="26" fill="#f07000" opacity="0.7"/><rect x="370.8" y="118.5" width="1.6" height="26" fill="#f07000" opacity="0.7"/><rect x="375.6" y="118.5" width="1.6" height="26" fill="#f07000" opacity="0.7"/><rect x="381.2" y="118.5" width="1.6" height="26" fill="#f07000" opacity="0.7"/><rect x="385.2" y="118.5" width="1.6" height="26" fill="#f07000" opacity="0.7"/><rect x="388.4" y="118.5" width="1.6" height="26" fill="#f07000" opacity="0.7"/><rect x="392.4" y="118.5" width="1.6" height="26" fill="#f07000" opacity="0.7"/><rect x="398.0" y="118.5" width="1.6" height="26" fill="#f07000" opacity="0.7"/><rect x="402.8" y="118.5" width="1.6" height="26" fill="#f07000" opacity="0.7"/><rect x="407.6" y="118.5" width="1.6" height="26" fill="#f07000" opacity="0.7"/><rect x="410.8" y="118.5" width="1.6" height="26" fill="#f07000" opacity="0.7"/><rect x="414.8" y="118.5" width="1.6" height="26" fill="#f07000" opacity="0.7"/><rect x="420.4" y="118.5" width="1.6" height="26" fill="#f07000" opacity="0.7"/><rect x="426.0" y="118.5" width="1.6" height="26" fill="#f07000" opacity="0.7"/><rect x="429.2" y="118.5" width="1.6" height="26" fill="#f07000" opacity="0.7"/><rect x="434.8" y="118.5" width="1.6" height="26" fill="#f07000" opacity="0.7"/><rect x="440.4" y="118.5" width="1.6" height="26" fill="#f07000" opacity="0.7"/><rect x="446.0" y="118.5" width="1.6" height="26" fill="#f07000" opacity="0.7"/><rect x="450.0" y="118.5" width="1.6" height="26" fill="#f07000" opacity="0.7"/><rect x="454.0" y="118.5" width="1.6" height="26" fill="#f07000" opacity="0.7"/><rect x="458.0" y="118.5" width="1.6" height="26" fill="#f07000" opacity="0.7"/><rect x="462.8" y="118.5" width="1.6" height="26" fill="#f07000" opacity="0.7"/><rect x="466.8" y="118.5" width="1.6" height="26" fill="#f07000" opacity="0.7"/><rect x="471.6" y="118.5" width="1.6" height="26" fill="#f07000" opacity="0.7"/><rect x="476.4" y="118.5" width="1.6" height="26" fill="#f07000" opacity="0.7"/><rect x="480.4" y="118.5" width="1.6" height="26" fill="#f07000" opacity="0.7"/><rect x="483.6" y="118.5" width="1.6" height="26" fill="#f07000" opacity="0.7"/><rect x="488.4" y="118.5" width="1.6" height="26" fill="#f07000" opacity="0.7"/><rect x="250" y="130.2" width="280" height="1.2" fill="#402000" opacity="0.85"/><rect x="195" y="129.89999999999998" width="55" height="1.8" fill="#0818c8" opacity="0.8"/><rect x="250" y="137.2" width="280" height="1.2" fill="#300000" opacity="0.85"/><rect x="195" y="136.89999999999998" width="55" height="1.8" fill="#0818c8" opacity="0.8"/><rect x="250" y="144.0" width="280" height="1.2" fill="#000010" opacity="0.85"/><rect x="195" y="143.7" width="55" height="1.8" fill="#0818c8" opacity="0.8"/><rect x="133.5" y="145.5" width="138" height="21.5" fill="url(#bEl)"/><rect x="145" y="147" width="90" height="1.2" fill="#4a90f0" opacity="0.6"/><rect x="492" y="145.5" width="63" height="21.5" fill="url(#bEr)"/><rect x="271" y="145.5" width="221" height="21.5" fill="#f05a10"/><rect x="272.0" y="145.5" width="1.5" height="21.5" fill="#d82000" opacity="0.6"/><rect x="275.0" y="145.5" width="1.5" height="21.5" fill="#d82000" opacity="0.6"/><rect x="278.0" y="145.5" width="1.5" height="21.5" fill="#d82000" opacity="0.6"/><rect x="281.0" y="145.5" width="1.5" height="21.5" fill="#d82000" opacity="0.6"/><rect x="284.0" y="145.5" width="1.5" height="21.5" fill="#d82000" opacity="0.6"/><rect x="287.5" y="145.5" width="1.5" height="21.5" fill="#d82000" opacity="0.6"/><rect x="291.0" y="145.5" width="1.5" height="21.5" fill="#d82000" opacity="0.6"/><rect x="294.5" y="145.5" width="1.5" height="21.5" fill="#d82000" opacity="0.6"/><rect x="297.5" y="145.5" width="1.5" height="21.5" fill="#d82000" opacity="0.6"/><rect x="300.5" y="145.5" width="1.5" height="21.5" fill="#d82000" opacity="0.6"/><rect x="304.5" y="145.5" width="1.5" height="21.5" fill="#d82000" opacity="0.6"/><rect x="307.5" y="145.5" width="1.5" height="21.5" fill="#d82000" opacity="0.6"/><rect x="311.5" y="145.5" width="1.5" height="21.5" fill="#d82000" opacity="0.6"/><rect x="315.0" y="145.5" width="1.5" height="21.5" fill="#d82000" opacity="0.6"/><rect x="318.5" y="145.5" width="1.5" height="21.5" fill="#d82000" opacity="0.6"/><rect x="322.0" y="145.5" width="1.5" height="21.5" fill="#d82000" opacity="0.6"/><rect x="325.5" y="145.5" width="1.5" height="21.5" fill="#d82000" opacity="0.6"/><rect x="329.0" y="145.5" width="1.5" height="21.5" fill="#d82000" opacity="0.6"/><rect x="332.0" y="145.5" width="1.5" height="21.5" fill="#d82000" opacity="0.6"/><rect x="335.0" y="145.5" width="1.5" height="21.5" fill="#d82000" opacity="0.6"/><rect x="338.5" y="145.5" width="1.5" height="21.5" fill="#d82000" opacity="0.6"/><rect x="341.5" y="145.5" width="1.5" height="21.5" fill="#d82000" opacity="0.6"/><rect x="345.5" y="145.5" width="1.5" height="21.5" fill="#d82000" opacity="0.6"/><rect x="348.5" y="145.5" width="1.5" height="21.5" fill="#d82000" opacity="0.6"/><rect x="352.0" y="145.5" width="1.5" height="21.5" fill="#d82000" opacity="0.6"/><rect x="355.5" y="145.5" width="1.5" height="21.5" fill="#d82000" opacity="0.6"/><rect x="358.5" y="145.5" width="1.5" height="21.5" fill="#d82000" opacity="0.6"/><rect x="362.0" y="145.5" width="1.5" height="21.5" fill="#d82000" opacity="0.6"/><rect x="365.5" y="145.5" width="1.5" height="21.5" fill="#d82000" opacity="0.6"/><rect x="369.0" y="145.5" width="1.5" height="21.5" fill="#d82000" opacity="0.6"/><rect x="373.0" y="145.5" width="1.5" height="21.5" fill="#d82000" opacity="0.6"/><rect x="376.5" y="145.5" width="1.5" height="21.5" fill="#d82000" opacity="0.6"/><rect x="380.5" y="145.5" width="1.5" height="21.5" fill="#d82000" opacity="0.6"/><rect x="384.5" y="145.5" width="1.5" height="21.5" fill="#d82000" opacity="0.6"/><rect x="387.5" y="145.5" width="1.5" height="21.5" fill="#d82000" opacity="0.6"/><rect x="391.5" y="145.5" width="1.5" height="21.5" fill="#d82000" opacity="0.6"/><rect x="395.5" y="145.5" width="1.5" height="21.5" fill="#d82000" opacity="0.6"/><rect x="399.0" y="145.5" width="1.5" height="21.5" fill="#d82000" opacity="0.6"/><rect x="403.0" y="145.5" width="1.5" height="21.5" fill="#d82000" opacity="0.6"/><rect x="406.0" y="145.5" width="1.5" height="21.5" fill="#d82000" opacity="0.6"/><rect x="410.0" y="145.5" width="1.5" height="21.5" fill="#d82000" opacity="0.6"/><rect x="413.5" y="145.5" width="1.5" height="21.5" fill="#d82000" opacity="0.6"/><rect x="416.5" y="145.5" width="1.5" height="21.5" fill="#d82000" opacity="0.6"/><rect x="420.5" y="145.5" width="1.5" height="21.5" fill="#d82000" opacity="0.6"/><rect x="424.5" y="145.5" width="1.5" height="21.5" fill="#d82000" opacity="0.6"/><rect x="427.5" y="145.5" width="1.5" height="21.5" fill="#d82000" opacity="0.6"/><rect x="431.5" y="145.5" width="1.5" height="21.5" fill="#d82000" opacity="0.6"/><rect x="435.0" y="145.5" width="1.5" height="21.5" fill="#d82000" opacity="0.6"/><rect x="439.0" y="145.5" width="1.5" height="21.5" fill="#d82000" opacity="0.6"/><rect x="443.0" y="145.5" width="1.5" height="21.5" fill="#d82000" opacity="0.6"/><rect x="447.0" y="145.5" width="1.5" height="21.5" fill="#d82000" opacity="0.6"/><rect x="450.5" y="145.5" width="1.5" height="21.5" fill="#d82000" opacity="0.6"/><rect x="454.0" y="145.5" width="1.5" height="21.5" fill="#d82000" opacity="0.6"/><rect x="457.5" y="145.5" width="1.5" height="21.5" fill="#d82000" opacity="0.6"/><rect x="461.5" y="145.5" width="1.5" height="21.5" fill="#d82000" opacity="0.6"/><rect x="464.5" y="145.5" width="1.5" height="21.5" fill="#d82000" opacity="0.6"/><rect x="467.5" y="145.5" width="1.5" height="21.5" fill="#d82000" opacity="0.6"/><rect x="471.5" y="145.5" width="1.5" height="21.5" fill="#d82000" opacity="0.6"/><rect x="475.0" y="145.5" width="1.5" height="21.5" fill="#d82000" opacity="0.6"/><rect x="478.0" y="145.5" width="1.5" height="21.5" fill="#d82000" opacity="0.6"/><rect x="481.5" y="145.5" width="1.5" height="21.5" fill="#d82000" opacity="0.6"/><rect x="485.0" y="145.5" width="1.5" height="21.5" fill="#d82000" opacity="0.6"/><rect x="489.0" y="145.5" width="1.5" height="21.5" fill="#d82000" opacity="0.6"/><rect x="492" y="148" width="138" height="1.3" fill="#f0a020"/><rect x="262" y="166.5" width="230" height="10" fill="url(#bFv)" opacity="0.95"/><rect x="492" y="166.5" width="48" height="10" fill="url(#bFr)" opacity="0.9"/><rect x="390" y="175.8" width="155" height="1.2" fill="#f0b020" opacity="0.85"/><rect x="254" y="168" width="6" height="7" fill="#c8e000" opacity="0.6"/><rect x="256.4" y="168" width="1.2" height="7" fill="#e02000" opacity="0.85"/><rect x="279" y="168" width="6" height="7" fill="#c8e000" opacity="0.6"/><rect x="281.4" y="168" width="1.2" height="7" fill="#e02000" opacity="0.85"/><rect x="304" y="168" width="6" height="7" fill="#c8e000" opacity="0.6"/><rect x="306.4" y="168" width="1.2" height="7" fill="#e02000" opacity="0.85"/><rect x="329" y="168" width="6" height="7" fill="#c8e000" opacity="0.6"/><rect x="331.4" y="168" width="1.2" height="7" fill="#e02000" opacity="0.85"/><rect x="354" y="168" width="6" height="7" fill="#c8e000" opacity="0.6"/><rect x="356.4" y="168" width="1.2" height="7" fill="#e02000" opacity="0.85"/><rect x="379" y="168" width="6" height="7" fill="#c8e000" opacity="0.6"/><rect x="381.4" y="168" width="1.2" height="7" fill="#e02000" opacity="0.85"/><rect x="380.5" y="118" width="1.5" height="50" fill="#80e040"/><rect x="232.5" y="34" width="1" height="158" fill="#3a70f0" opacity="0.6"/><rect x="255" y="38" width="375" height="1.8" fill="#30c8e0" opacity="0.9"/><rect x="255" y="85.5" width="375" height="1" fill="#30a0f0" opacity="0.7"/><rect x="255" y="54" width="375" height="1" fill="#30a8f0" opacity="0.45"/><rect x="255" y="80.5" width="375" height="1" fill="#30b0f0" opacity="0.45"/><rect x="255" y="103" width="375" height="1" fill="#30a8f0" opacity="0.6"/><rect x="255" y="117.5" width="375" height="1" fill="#30b0f0" opacity="0.6"/><rect x="255" y="167.5" width="375" height="1" fill="#30c0f0" opacity="0.6"/><rect x="255" y="183" width="375" height="1" fill="#30a0f0" opacity="0.5"/><rect x="255" y="187.5" width="375" height="1" fill="#30b0f0" opacity="0.5"/><rect x="140.5" y="34" width="115" height="10" fill="#101058" opacity="0.92"/><rect x="249" y="41.25" width="16" height="5.5" fill="url(#spg)"/><rect x="249" y="52.25" width="16" height="5.5" fill="url(#spg)"/><rect x="249" y="65.25" width="16" height="5.5" fill="url(#spg)"/><rect x="274" y="34.75" width="16" height="5.5" fill="url(#spg)"/><rect x="274" y="47.75" width="16" height="5.5" fill="url(#spg)"/><rect x="274" y="53.75" width="16" height="5.5" fill="url(#spg)"/><rect x="274" y="65.25" width="16" height="5.5" fill="url(#spg)"/><rect x="299" y="34.75" width="16" height="5.5" fill="url(#spg)"/><rect x="299" y="47.75" width="16" height="5.5" fill="url(#spg)"/><rect x="299" y="59.25" width="16" height="5.5" fill="url(#spg)"/><rect x="299" y="66.25" width="16" height="5.5" fill="url(#spg)"/><rect x="324" y="35.25" width="16" height="5.5" fill="url(#spg)"/><rect x="324" y="47.75" width="16" height="5.5" fill="url(#spg)"/><rect x="324" y="60.75" width="16" height="5.5" fill="url(#spg)"/><rect x="324" y="71.25" width="16" height="5.5" fill="url(#spg)"/><rect x="349" y="47.75" width="16" height="5.5" fill="url(#spg)"/><rect x="374" y="41.25" width="16" height="5.5" fill="url(#spg)"/><rect x="374" y="60.75" width="16" height="5.5" fill="url(#spg)"/><rect x="374" y="71.25" width="16" height="5.5" fill="url(#spg)"/><rect x="249" y="188.25" width="16" height="5.5" fill="url(#spg)"/><rect x="274" y="182.25" width="16" height="5.5" fill="url(#spg)"/><rect x="299" y="182.25" width="16" height="5.5" fill="url(#spg)"/><rect x="324" y="182.25" width="16" height="5.5" fill="url(#spg)"/><rect x="349" y="60.75" width="16" height="5.5" fill="url(#spf)"/><rect x="349" y="71.25" width="16" height="5.5" fill="url(#spf)"/><rect x="374" y="49.25" width="16" height="5.5" fill="url(#spf)"/><rect x="299" y="71.25" width="16" height="5.5" fill="url(#spf)"/><rect x="583.9" y="40.6" width="17" height="7" rx="2" fill="url(#spr)"/><rect x="583.9" y="52.6" width="17" height="7" rx="2" fill="url(#spr)"/><rect x="584.9" y="64.7" width="15" height="6.5" rx="2" fill="url(#spr)"/><rect x="587.4" y="74.0" width="10" height="5" rx="2" fill="url(#spr)"/><rect x="608.4" y="40.9" width="17" height="6.5" rx="2" fill="url(#spr)"/><rect x="608.9" y="52.9" width="16" height="6.5" rx="2" fill="url(#spr)"/><rect x="609.9" y="64.9" width="14" height="6" rx="2" fill="url(#spr)"/><rect x="584.4" y="177.0" width="16" height="6" rx="2" fill="url(#spr)"/><rect x="584.4" y="187.1" width="16" height="5" rx="2" fill="url(#spr)"/><rect x="608.4" y="169.8" width="17" height="6.5" rx="2" fill="url(#spr)"/><rect x="609.9" y="178.5" width="14" height="5" rx="2" fill="url(#spr)"/><rect x="608.9" y="187.1" width="16" height="5" rx="2" fill="url(#spr)"/><rect x="587.4" y="168.0" width="10" height="3" rx="2" fill="url(#spr)"/><rect x="604" y="34" width="1" height="158" fill="#3070f0" opacity="0.6"/>
<rect x="132" y="228" width="500" height="272" fill="#000"/><rect x="132" y="230.00" width="500" height="1" fill="#8a8a8a"/><rect x="132" y="256.00" width="500" height="1" fill="#8a8a8a"/><rect x="132" y="283.15" width="500" height="1" fill="#8a8a8a"/><rect x="132" y="310.30" width="500" height="1" fill="#8a8a8a"/><rect x="132" y="337.45" width="500" height="1" fill="#8a8a8a"/><rect x="132" y="364.60" width="500" height="1" fill="#8a8a8a"/><rect x="132" y="391.75" width="500" height="1" fill="#8a8a8a"/><rect x="132" y="418.90" width="500" height="1" fill="#8a8a8a"/><rect x="132" y="446.05" width="500" height="1" fill="#8a8a8a"/><rect x="132" y="473.20" width="500" height="1" fill="#8a8a8a"/><rect x="182.0" y="228" width="1" height="272" fill="#8a8a8a"/><rect x="232.0" y="228" width="1" height="272" fill="#8a8a8a"/><rect x="282.0" y="228" width="1" height="272" fill="#8a8a8a"/><rect x="332.0" y="228" width="1" height="272" fill="#8a8a8a"/><rect x="382.0" y="228" width="1" height="272" fill="#8a8a8a"/><rect x="432.0" y="228" width="1" height="272" fill="#8a8a8a"/><rect x="482.0" y="228" width="1" height="272" fill="#8a8a8a"/><rect x="532.0" y="228" width="1" height="272" fill="#8a8a8a"/><rect x="582.0" y="228" width="1" height="272" fill="#8a8a8a"/><mask id="mR" maskUnits="userSpaceOnUse" x="480" y="240" width="160" height="140"><rect x="480" y="240" width="160" height="140" fill="url(#dRx)"/></mask><g mask="url(#mR)"><polygon points="493,256 560,257 632,259 632,376 493,376" fill="url(#dR2)" filter="url(#spk1)"/><polygon points="493,258 560,260 632,262 632,376 493,376" fill="url(#dR2)" filter="url(#spk2)"/></g><polygon points="134,345 160,332 180,326 205,324 240,326 240,370 134,370" fill="url(#dL)" filter="url(#spk3)"/><polygon points="136,348 160,338 180,330 205,330 240,330 240,370 136,370" fill="url(#dL)" filter="url(#spk1)" opacity="0.6"/><rect x="271" y="242" width="222" height="14" fill="url(#dT)" filter="url(#spk1)"/><rect x="271" y="242" width="222" height="14" fill="url(#dT)" filter="url(#spk2)"/><polygon points="132.0,362.0 160.0,361.0 190.0,359.5 205.4,358.0 220.9,353.5 232.0,347.5 240.0,341.0 246.0,333.5 250.0,319.0 254.0,302.0 258.0,282.0 264.0,266.0 272.0,258.0 272.0,378.5 132.0,378.5" fill="#1a60e8"/><polygon points="132.0,364.0 160.0,363.0 190.0,361.7 205.4,360.2 220.9,355.6 232.0,350.0 240.0,343.5 246.0,336.0 250.0,322.0 254.0,305.0 258.0,285.0 264.0,270.0 272.0,262.0 272.0,378.5 132.0,378.5" fill="#10c4e0"/><polygon points="132.0,368.0 160.0,367.0 190.0,366.4 205.4,364.8 220.9,361.0 232.0,355.5 240.0,349.5 246.0,342.0 250.0,333.0 254.0,320.0 258.0,302.0 264.0,276.0 272.0,268.0 272.0,378.5 132.0,378.5" fill="#20e070"/><polygon points="132.0,372.0 160.0,371.0 190.0,370.2 205.4,369.4 220.9,365.6 232.0,361.0 240.0,356.0 246.0,350.0 250.0,345.0 254.0,338.0 258.0,326.0 264.0,290.0 272.0,280.0 272.0,378.5 132.0,378.5" fill="#c0e000"/><polygon points="132.0,375.0 160.0,374.0 190.0,373.5 205.4,372.5 220.9,370.2 232.0,367.0 240.0,363.0 246.0,358.5 250.0,353.0 254.0,348.0 258.0,340.0 264.0,310.0 272.0,300.0 272.0,378.5 132.0,378.5" fill="#f0a800"/><polygon points="132.0,377.0 160.0,377.0 190.0,377.0 205.4,376.5 220.9,375.5 232.0,374.0 240.0,372.5 246.0,370.0 250.0,367.0 254.0,364.0 258.0,360.0 264.0,340.0 272.0,330.0 272.0,378.5 132.0,378.5" fill="#f07000"/><polygon points="492.0,259.0 496.6,293.1 501.8,305.7 508.7,313.8 519.0,319.0 531.2,328.0 543.3,335.0 557.0,340.5 568.0,344.5 580.0,347.5 595.0,350.0 632.0,354.0 632.0,378.5 492.0,378.5" fill="#3aa0f0" opacity="0.18"/><polygon points="492.0,259.0 496.6,294.0 501.8,307.7 508.7,317.2 519.0,324.0 531.2,333.0 543.3,340.0 557.0,345.5 568.0,349.5 580.0,352.5 595.0,355.0 632.0,359.0 632.0,378.5 492.0,378.5" fill="#3aa0f0" opacity="0.22"/><polygon points="492.0,259.0 496.6,294.9 501.8,309.6 508.7,320.5 519.0,329.0 531.2,338.0 543.3,345.0 557.0,350.5 568.0,354.5 580.0,357.5 595.0,360.0 632.0,364.0 632.0,378.5 492.0,378.5" fill="#3aa0f0" opacity="0.3"/><polygon points="492.0,259.0 496.6,296.0 501.8,312.0 508.7,324.5 519.0,335.0 531.2,344.0 543.3,351.0 557.0,356.5 568.0,360.5 580.0,363.5 595.0,366.0 632.0,370.0 632.0,378.5 492.0,378.5" fill="#1a64e8"/><polygon points="492.0,262.0 496.6,300.4 501.8,315.9 508.7,328.0 519.0,338.4 531.2,347.0 543.3,353.9 557.0,359.0 568.0,362.5 580.0,365.5 595.0,368.0 632.0,371.0 632.0,378.5 492.0,378.5" fill="#10c4e0"/><polygon points="492.0,268.0 496.6,308.0 501.8,321.0 508.7,333.0 519.0,342.5 531.2,351.5 543.3,358.5 557.0,363.5 568.0,367.0 580.0,369.5 595.0,371.5 632.0,373.5 632.0,378.5 492.0,378.5" fill="#20e070"/><polygon points="492.0,274.0 496.6,318.0 501.8,331.0 508.7,342.0 519.0,350.5 531.2,357.5 543.3,363.0 557.0,367.5 568.0,369.5 580.0,371.5 595.0,373.5 632.0,375.0 632.0,378.5 492.0,378.5" fill="#c0e000"/><polygon points="492.0,280.0 496.6,326.0 501.8,338.0 508.7,349.0 519.0,357.0 531.2,363.0 543.3,367.5 557.0,371.0 568.0,372.0 580.0,374.0 595.0,375.5 632.0,376.5 632.0,378.5 492.0,378.5" fill="#f0a800"/><polygon points="492.0,300.0 496.6,345.0 501.8,356.0 508.7,364.0 519.0,369.0 531.2,372.0 543.3,374.0 557.0,375.5 568.0,376.5 580.0,377.0 595.0,377.5 632.0,378.0 632.0,378.5 492.0,378.5" fill="#f07000"/><polygon points="489,378 490,362 492.5,355 495,366 497,378" fill="#b00000"/><polygon points="246,360 247,335 248.3,318 249.5,300 251,285 253.3,268 255.5,256 257.2,246 259,256 260.8,268 262.2,285 263.2,300 264.2,318 265.2,335 266,360" fill="#18d0c0"/><polygon points="248,372 249.5,340 252,318 255,302 257.5,296 260,302 262.5,318 264.5,340 266,372" fill="#40e050"/><polygon points="248,378 250,352 253,335 257.5,325 262,335 264.5,352 267,378" fill="#e0d800"/><polygon points="249.5,378 252,358 255,345 258,340 261,345 264,358 266,378" fill="#f0a000"/><polygon points="252,378 254.5,364 258,356 261.5,364 264,378" fill="#f07000"/><polygon points="271.0,378.0 271.0,262.0 271.9,252.4 273.5,261.0 276.0,252.6 277.6,261.0 280.1,253.2 281.7,261.0 284.2,252.4 285.8,261.0 288.3,252.5 289.9,261.0 292.4,252.6 294.0,261.0 296.5,252.0 298.1,261.0 300.6,252.5 302.2,261.0 304.7,252.7 306.3,261.0 308.8,253.0 310.4,261.0 312.9,251.9 314.5,261.0 317.0,252.2 318.6,261.0 321.1,251.8 322.7,261.0 325.2,253.0 326.8,261.0 329.3,252.8 330.9,261.0 333.4,251.8 335.0,261.0 337.5,253.3 339.1,261.0 341.6,253.2 343.2,261.0 345.7,252.7 347.3,261.0 349.8,252.7 351.4,261.0 353.9,252.0 355.5,261.0 358.0,251.7 359.6,261.0 362.1,252.5 363.7,261.0 366.2,251.8 367.8,261.0 370.3,252.0 371.9,261.0 374.4,252.1 376.0,261.0 378.5,251.7 380.1,261.0 382.6,252.4 384.2,261.0 386.7,252.4 388.3,261.0 390.8,253.0 392.4,261.0 394.9,252.5 396.5,261.0 399.0,252.7 400.6,261.0 403.1,252.5 404.7,261.0 407.2,252.8 408.8,261.0 411.3,252.4 412.9,261.0 415.4,252.1 417.0,261.0 419.5,253.3 421.1,261.0 423.6,253.3 425.2,261.0 427.7,253.0 429.3,261.0 431.8,252.8 433.4,261.0 435.9,252.2 437.5,261.0 440.0,252.1 441.6,261.0 444.1,252.2 445.7,261.0 448.2,251.8 449.8,261.0 452.3,252.9 453.9,261.0 456.4,252.3 458.0,261.0 460.5,253.1 462.1,261.0 464.6,252.3 466.2,261.0 468.7,253.2 470.3,261.0 472.8,253.1 474.4,261.0 476.9,251.7 478.5,261.0 481.0,252.0 482.6,261.0 485.1,253.2 486.7,261.0 489.2,252.5 490.8,261.0 493.0,262.0 493.0,378.0" fill="url(#blk)"/><rect x="271" y="262" width="222" height="110" fill="url(#comb)" opacity="0.6"/><polygon points="271.0,369.0 273.0,360.0 275.1,368.2 277.1,359.2 279.2,367.3 281.2,358.3 283.3,366.5 285.3,357.5 287.4,365.6 289.4,356.6 291.5,364.8 293.5,355.8 295.6,363.9 297.6,354.9 299.7,363.1 301.7,354.1 303.8,362.0 305.8,353.0 307.9,360.9 309.9,351.9 312.0,359.8 314.0,350.8 316.1,358.7 318.1,349.7 320.2,357.6 322.2,348.6 324.3,356.5 326.3,347.5 328.4,355.4 330.4,346.4 332.5,354.3 334.5,345.3 336.6,353.2 338.6,344.2 340.7,352.1 342.7,343.1 344.8,351.1 346.8,342.1 348.9,350.0 350.9,341.0 353.0,348.9 355.0,339.9 357.1,347.8 359.1,338.8 361.2,346.7 363.2,337.7 365.3,345.8 367.3,336.8 369.4,344.9 371.4,335.9 373.5,343.9 375.5,334.9 377.6,343.0 379.6,334.0 381.7,342.1 383.7,333.1 385.8,343.5 387.8,334.5 389.9,345.1 391.9,336.1 394.0,346.7 396.0,337.7 398.1,348.3 400.1,339.3 402.2,350.5 404.2,341.5 406.3,353.4 408.3,344.4 410.4,356.3 412.4,347.3 414.5,359.2 416.5,350.2 418.6,362.0 420.6,353.0 422.7,364.7 424.7,355.7 426.8,367.3 428.8,358.3 430.9,369.8 432.9,360.8 435.0,372.4 437.0,363.4 439.1,373.9 441.1,364.9 443.2,375.1 445.2,366.1 447.3,376.2 449.3,367.2 451.4,376.6 453.4,367.6 455.5,375.6 457.5,366.6 459.6,374.6 461.6,365.6 463.7,373.6 465.7,364.6 467.8,372.0 469.8,363.0 471.9,369.6 473.9,360.6 476.0,367.3 478.0,358.3 480.1,365.0 482.1,356.0 484.2,364.4 486.2,355.4 488.3,363.7 490.3,354.7 492.4,363.1 494.4,354.1 493.0,378.5 271.0,378.5" fill="#f0a000"/><polygon points="271.0,372.0 273.0,363.0 275.1,371.2 277.1,362.2 279.2,370.3 281.2,361.3 283.3,369.5 285.3,360.5 287.4,368.6 289.4,359.6 291.5,367.8 293.5,358.8 295.6,366.9 297.6,357.9 299.7,366.1 301.7,357.1 303.8,365.0 305.8,356.0 307.9,363.9 309.9,354.9 312.0,362.8 314.0,353.8 316.1,361.7 318.1,352.7 320.2,360.6 322.2,351.6 324.3,359.5 326.3,350.5 328.4,358.4 330.4,349.4 332.5,357.3 334.5,348.3 336.6,356.2 338.6,347.2 340.7,355.1 342.7,346.1 344.8,354.1 346.8,345.1 348.9,353.0 350.9,344.0 353.0,351.9 355.0,342.9 357.1,350.8 359.1,341.8 361.2,349.7 363.2,340.7 365.3,348.8 367.3,339.8 369.4,347.9 371.4,338.9 373.5,346.9 375.5,337.9 377.6,346.0 379.6,337.0 381.7,345.1 383.7,336.1 385.8,346.5 387.8,337.5 389.9,348.1 391.9,339.1 394.0,349.7 396.0,340.7 398.1,351.3 400.1,342.3 402.2,353.5 404.2,344.5 406.3,356.4 408.3,347.4 410.4,359.3 412.4,350.3 414.5,362.2 416.5,353.2 418.6,365.0 420.6,356.0 422.7,367.7 424.7,358.7 426.8,370.3 428.8,361.3 430.9,372.8 432.9,363.8 435.0,375.4 437.0,366.4 439.1,376.9 441.1,367.9 443.2,378.1 445.2,369.1 447.3,379.2 449.3,370.2 451.4,379.6 453.4,370.6 455.5,378.6 457.5,369.6 459.6,377.6 461.6,368.6 463.7,376.6 465.7,367.6 467.8,375.0 469.8,366.0 471.9,372.6 473.9,363.6 476.0,370.3 478.0,361.3 480.1,368.0 482.1,359.0 484.2,367.4 486.2,358.4 488.3,366.7 490.3,357.7 492.4,366.1 494.4,357.1 493.0,378.5 271.0,378.5" fill="#f06000"/><polygon points="271.0,375.0 273.0,366.0 275.1,374.2 277.1,365.2 279.2,373.3 281.2,364.3 283.3,372.5 285.3,363.5 287.4,371.6 289.4,362.6 291.5,370.8 293.5,361.8 295.6,369.9 297.6,360.9 299.7,369.1 301.7,360.1 303.8,368.0 305.8,359.0 307.9,366.9 309.9,357.9 312.0,365.8 314.0,356.8 316.1,364.7 318.1,355.7 320.2,363.6 322.2,354.6 324.3,362.5 326.3,353.5 328.4,361.4 330.4,352.4 332.5,360.3 334.5,351.3 336.6,359.2 338.6,350.2 340.7,358.1 342.7,349.1 344.8,357.1 346.8,348.1 348.9,356.0 350.9,347.0 353.0,354.9 355.0,345.9 357.1,353.8 359.1,344.8 361.2,352.7 363.2,343.7 365.3,351.8 367.3,342.8 369.4,350.9 371.4,341.9 373.5,349.9 375.5,340.9 377.6,349.0 379.6,340.0 381.7,348.1 383.7,339.1 385.8,349.5 387.8,340.5 389.9,351.1 391.9,342.1 394.0,352.7 396.0,343.7 398.1,354.3 400.1,345.3 402.2,356.5 404.2,347.5 406.3,359.4 408.3,350.4 410.4,362.3 412.4,353.3 414.5,365.2 416.5,356.2 418.6,368.0 420.6,359.0 422.7,370.7 424.7,361.7 426.8,373.3 428.8,364.3 430.9,375.8 432.9,366.8 435.0,378.4 437.0,369.4 439.1,379.9 441.1,370.9 443.2,381.1 445.2,372.1 447.3,382.2 449.3,373.2 451.4,382.6 453.4,373.6 455.5,381.6 457.5,372.6 459.6,380.6 461.6,371.6 463.7,379.6 465.7,370.6 467.8,378.0 469.8,369.0 471.9,375.6 473.9,366.6 476.0,373.3 478.0,364.3 480.1,371.0 482.1,362.0 484.2,370.4 486.2,361.4 488.3,369.7 490.3,360.7 492.4,369.1 494.4,360.1 493.0,378.5 271.0,378.5" fill="#e02000"/><polygon points="271.0,378.0 273.0,369.0 275.1,377.2 277.1,368.2 279.2,376.3 281.2,367.3 283.3,375.5 285.3,366.5 287.4,374.6 289.4,365.6 291.5,373.8 293.5,364.8 295.6,372.9 297.6,363.9 299.7,372.1 301.7,363.1 303.8,371.0 305.8,362.0 307.9,369.9 309.9,360.9 312.0,368.8 314.0,359.8 316.1,367.7 318.1,358.7 320.2,366.6 322.2,357.6 324.3,365.5 326.3,356.5 328.4,364.4 330.4,355.4 332.5,363.3 334.5,354.3 336.6,362.2 338.6,353.2 340.7,361.1 342.7,352.1 344.8,360.1 346.8,351.1 348.9,359.0 350.9,350.0 353.0,357.9 355.0,348.9 357.1,356.8 359.1,347.8 361.2,355.7 363.2,346.7 365.3,354.8 367.3,345.8 369.4,353.9 371.4,344.9 373.5,352.9 375.5,343.9 377.6,352.0 379.6,343.0 381.7,351.1 383.7,342.1 385.8,352.5 387.8,343.5 389.9,354.1 391.9,345.1 394.0,355.7 396.0,346.7 398.1,357.3 400.1,348.3 402.2,359.5 404.2,350.5 406.3,362.4 408.3,353.4 410.4,365.3 412.4,356.3 414.5,368.2 416.5,359.2 418.6,371.0 420.6,362.0 422.7,373.7 424.7,364.7 426.8,376.3 428.8,367.3 430.9,378.8 432.9,369.8 435.0,381.4 437.0,372.4 439.1,382.9 441.1,373.9 443.2,384.1 445.2,375.1 447.3,385.2 449.3,376.2 451.4,385.6 453.4,376.6 455.5,384.6 457.5,375.6 459.6,383.6 461.6,374.6 463.7,382.6 465.7,373.6 467.8,381.0 469.8,372.0 471.9,378.6 473.9,369.6 476.0,376.3 478.0,367.3 480.1,374.0 482.1,365.0 484.2,373.4 486.2,364.4 488.3,372.7 490.3,363.7 492.4,372.1 494.4,363.1 493.0,378.5 271.0,378.5" fill="#b80000"/><polygon points="271.0,381.0 273.0,372.0 275.1,380.2 277.1,371.2 279.2,379.3 281.2,370.3 283.3,378.5 285.3,369.5 287.4,377.6 289.4,368.6 291.5,376.8 293.5,367.8 295.6,375.9 297.6,366.9 299.7,375.1 301.7,366.1 303.8,374.0 305.8,365.0 307.9,372.9 309.9,363.9 312.0,371.8 314.0,362.8 316.1,370.7 318.1,361.7 320.2,369.6 322.2,360.6 324.3,368.5 326.3,359.5 328.4,367.4 330.4,358.4 332.5,366.3 334.5,357.3 336.6,365.2 338.6,356.2 340.7,364.1 342.7,355.1 344.8,363.1 346.8,354.1 348.9,362.0 350.9,353.0 353.0,360.9 355.0,351.9 357.1,359.8 359.1,350.8 361.2,358.7 363.2,349.7 365.3,357.8 367.3,348.8 369.4,356.9 371.4,347.9 373.5,355.9 375.5,346.9 377.6,355.0 379.6,346.0 381.7,354.1 383.7,345.1 385.8,355.5 387.8,346.5 389.9,357.1 391.9,348.1 394.0,358.7 396.0,349.7 398.1,360.3 400.1,351.3 402.2,362.5 404.2,353.5 406.3,365.4 408.3,356.4 410.4,368.3 412.4,359.3 414.5,371.2 416.5,362.2 418.6,374.0 420.6,365.0 422.7,376.7 424.7,367.7 426.8,379.3 428.8,370.3 430.9,381.8 432.9,372.8 435.0,384.4 437.0,375.4 439.1,385.9 441.1,376.9 443.2,387.1 445.2,378.1 447.3,388.2 449.3,379.2 451.4,388.6 453.4,379.6 455.5,387.6 457.5,378.6 459.6,386.6 461.6,377.6 463.7,385.6 465.7,376.6 467.8,384.0 469.8,375.0 471.9,381.6 473.9,372.6 476.0,379.3 478.0,370.3 480.1,377.0 482.1,368.0 484.2,376.4 486.2,367.4 488.3,375.7 490.3,366.7 492.4,375.1 494.4,366.1 493.0,378.5 271.0,378.5" fill="#a00000"/><polygon points="583,376 583.5,360 584.9,340 586.5,320 587.7,300 590,280 592,265 594.2,246 596.2,265 598.5,280 601.8,300 603.5,320 604.6,340 605.5,358 606,376" fill="#14d0b4"/><polygon points="605.4,376 606.5,350 608.5,335 610.2,320 612.5,300 614.4,280 617.5,262 619.5,245 621.5,262 624.3,280 626.5,300 628.5,320 630,340 630.8,360 631.5,376" fill="#14d0b4"/><rect x="582" y="366" width="50" height="10" fill="#30e050"/><rect x="582" y="372" width="50" height="5" fill="#d0e000"/><polygon points="376,335 379.5,275 382,250 384.5,275 388,335" fill="#20d8a0" opacity="0.85"/><rect x="380.5" y="335" width="3" height="42" fill="#f0a000" opacity="0.7"/><rect x="132" y="378.5" width="500" height="121.5" fill="url(#floorg)"/><rect x="132" y="378.5" width="124" height="121.5" fill="url(#floorL)"/><rect x="256" y="378.5" width="2" height="121.5" fill="url(#floorL)" opacity="0.96"/><rect x="258" y="378.5" width="2" height="121.5" fill="url(#floorL)" opacity="0.88"/><rect x="260" y="378.5" width="2" height="121.5" fill="url(#floorL)" opacity="0.79"/><rect x="262" y="378.5" width="2" height="121.5" fill="url(#floorL)" opacity="0.71"/><rect x="264" y="378.5" width="2" height="121.5" fill="url(#floorL)" opacity="0.62"/><rect x="266" y="378.5" width="2" height="121.5" fill="url(#floorL)" opacity="0.54"/><rect x="268" y="378.5" width="2" height="121.5" fill="url(#floorL)" opacity="0.46"/><rect x="270" y="378.5" width="2" height="121.5" fill="url(#floorL)" opacity="0.38"/><rect x="272" y="378.5" width="2" height="121.5" fill="url(#floorL)" opacity="0.29"/><rect x="274" y="378.5" width="2" height="121.5" fill="url(#floorL)" opacity="0.21"/><rect x="276" y="378.5" width="2" height="121.5" fill="url(#floorL)" opacity="0.12"/><rect x="278" y="378.5" width="2" height="121.5" fill="url(#floorL)" opacity="0.04"/><rect x="231.5" y="428" width="1" height="44" fill="#f0e060" opacity="0.6"/><rect x="132" y="256.00" width="500" height="1" fill="#b0b0b0" opacity="0.25"/><rect x="132" y="283.15" width="500" height="1" fill="#b0b0b0" opacity="0.25"/><rect x="132" y="310.30" width="500" height="1" fill="#b0b0b0" opacity="0.25"/><rect x="132" y="337.45" width="500" height="1" fill="#b0b0b0" opacity="0.25"/><rect x="132" y="364.60" width="500" height="1" fill="#b0b0b0" opacity="0.25"/><rect x="132" y="391.75" width="500" height="1" fill="#b0b0b0" opacity="0.25"/><rect x="132" y="418.90" width="500" height="1" fill="#b0b0b0" opacity="0.25"/><rect x="132" y="446.05" width="500" height="1" fill="#b0b0b0" opacity="0.25"/><rect x="132" y="473.20" width="500" height="1" fill="#b0b0b0" opacity="0.25"/><rect x="182.0" y="228" width="1" height="272" fill="#b0b0b0" opacity="0.25"/><rect x="232.0" y="228" width="1" height="272" fill="#b0b0b0" opacity="0.25"/><rect x="282.0" y="228" width="1" height="272" fill="#b0b0b0" opacity="0.25"/><rect x="332.0" y="228" width="1" height="272" fill="#b0b0b0" opacity="0.25"/><rect x="382.0" y="228" width="1" height="272" fill="#b0b0b0" opacity="0.25"/><rect x="432.0" y="228" width="1" height="272" fill="#b0b0b0" opacity="0.25"/><rect x="482.0" y="228" width="1" height="272" fill="#b0b0b0" opacity="0.25"/><rect x="532.0" y="228" width="1" height="272" fill="#b0b0b0" opacity="0.25"/><rect x="582.0" y="228" width="1" height="272" fill="#b0b0b0" opacity="0.25"/><polyline points="132.0,378.2 132.8,376.3 133.6,375.2 134.4,377.1 135.2,377.6 136.0,375.9 136.8,375.3 137.6,376.1 138.4,378.2 139.2,377.5 140.0,375.4 140.8,375.8 141.6,375.3 142.4,375.2 143.2,377.6 144.0,375.6 144.8,376.8 145.6,376.5 146.4,375.6 147.2,377.4 148.0,375.4 148.8,377.1 149.6,375.4 150.4,376.4 151.2,375.7 152.0,375.9 152.8,378.2 153.6,377.7 154.4,376.0 155.2,377.9 156.0,375.7 156.8,376.3 157.6,377.8 158.4,377.1 159.2,375.3 160.0,378.3 160.8,375.7 161.6,375.9 162.4,377.5 163.2,376.1 164.0,376.0 164.8,375.2 165.6,375.3 166.4,376.9 167.2,375.8 168.0,377.0 168.8,376.2 169.6,376.5 170.4,378.2 171.2,376.6 172.0,376.9 172.8,377.9 173.6,375.6 174.4,375.5 175.2,378.0 176.0,377.7 176.8,375.8 177.6,375.6 178.4,377.4 179.2,378.1 180.0,375.6 180.8,378.1 181.6,377.9 182.4,377.0 183.2,376.4 184.0,375.3 184.8,375.1 185.6,378.2 186.4,375.8 187.2,377.3 188.0,375.8 188.8,377.7 189.6,377.0 190.4,376.0 191.2,375.6 192.0,377.4 192.8,375.2 193.6,375.8 194.4,376.8 195.2,377.8 196.0,377.0 196.8,375.9 197.6,378.0 198.4,375.7 199.2,375.1 200.0,375.9 200.8,376.5 201.6,375.2 202.4,375.6 203.2,376.2 204.0,376.9 204.8,375.4 205.6,376.2 206.4,377.9 207.2,378.2 208.0,377.2 208.8,377.3 209.6,376.9 210.4,375.5 211.2,375.1 212.0,375.1 212.8,378.0 213.6,377.3 214.4,378.2 215.2,375.1 216.0,377.1 216.8,376.6 217.6,377.4 218.4,376.1 219.2,378.3 220.0,375.2 220.8,376.8 221.6,377.4 222.4,378.0 223.2,377.4 224.0,377.3 224.8,377.6 225.6,378.0 226.4,376.2 227.2,377.3 228.0,378.0 228.8,377.9 229.6,376.4 230.4,377.6 231.2,377.8 232.0,376.9 232.8,377.1 233.6,376.3 234.4,376.9 235.2,377.0 236.0,375.3 236.8,377.1 237.6,378.3 238.4,377.9 239.2,377.4 240.0,376.3 240.8,377.4 241.6,376.9 242.4,376.5 243.2,377.8 244.0,375.3 244.8,377.5 245.6,375.1 246.4,373.6 247.2,367.1 248.0,360.0 248.0,360.2 248.8,346.3 249.5,335.0 249.6,333.4 250.4,323.3 251.2,314.4 251.5,310.0 252.0,303.7 252.8,293.5 253.5,285.0 253.6,283.4 254.4,275.1 255.2,266.1 255.5,262.0 256.0,258.0 256.8,250.7 257.2,248.0 257.6,251.7 258.4,257.7 259.0,262.0 259.2,264.7 260.0,277.3 260.5,285.0 260.8,289.5 261.6,303.5 262.0,310.0 262.4,316.4 263.2,330.8 263.5,335.0 264.0,342.0 264.8,355.5 265.0,358.0 265.6,364.0 266.4,371.0 267.2,377.6 268.0,375.1 268.8,375.4 269.6,376.5 270.4,375.1 271.2,377.7 272.0,375.8 272.8,375.5 273.6,375.2 274.4,377.1 275.2,376.5 276.0,377.1 276.8,377.2 277.6,377.7 278.4,378.2 279.2,377.3 280.0,375.7 280.8,376.6 281.6,375.6 282.4,375.0 283.2,376.6 284.0,377.4 284.8,375.6 285.6,375.9 286.4,376.1 287.2,377.3 288.0,376.7 288.8,377.0 289.6,377.5 290.4,376.3 291.2,377.6 292.0,378.0 292.8,375.3 293.6,378.1 294.4,377.4 295.2,375.4 296.0,376.5 296.8,377.1 297.6,378.0 298.4,376.2 299.2,376.9 300.0,377.9 300.8,377.6 301.6,378.1 302.4,376.5 303.2,377.1 304.0,375.7 304.8,377.4 305.6,377.7 306.4,377.1 307.2,377.4 308.0,375.7 308.8,378.0 309.6,378.2 310.4,378.2 311.2,376.8 312.0,377.6 312.8,376.1 313.6,378.0 314.4,377.8 315.2,376.2 316.0,375.3 316.8,376.5 317.6,376.8 318.4,377.5 319.2,376.6 320.0,375.1 320.8,377.7 321.6,375.2 322.4,377.6 323.2,375.6 324.0,376.1 324.8,377.6 325.6,375.5 326.4,375.5 327.2,376.7 328.0,377.4 328.8,377.8 329.6,377.3 330.4,378.1 331.2,376.6 332.0,378.1 332.8,375.3 333.6,375.7 334.4,376.7 335.2,376.0 336.0,377.4 336.8,377.1 337.6,376.7 338.4,377.8 339.2,374.3 340.0,365.4 340.4,360.0 340.8,355.7 341.6,349.3 342.4,341.1 342.5,340.0 343.2,337.7 343.9,335.2 344.0,336.0 344.8,341.5 345.5,345.0 345.6,346.1 346.4,356.0 347.2,366.0 348.0,375.2 348.8,376.8 349.6,376.4 350.4,374.5 351.2,369.6 352.0,365.2 352.8,361.7 353.0,360.0 353.6,356.6 354.4,352.9 355.2,348.0 356.0,343.7 356.3,342.9 356.8,345.2 357.6,349.8 358.4,354.6 358.5,355.0 359.2,361.0 360.0,367.0 360.8,372.9 361.6,376.8 362.4,376.4 363.2,375.8 364.0,371.0 364.8,367.3 365.0,366.0 365.6,367.8 366.4,370.4 367.0,372.0 367.2,371.0 368.0,369.5 368.8,366.3 369.0,366.0 369.6,370.7 370.4,375.7 371.2,374.1 372.0,366.0 372.5,360.0 372.8,352.7 373.6,335.4 374.3,320.0 374.4,318.4 375.2,311.0 376.0,301.9 376.8,294.7 377.0,292.0 377.6,285.0 378.4,277.5 379.2,268.8 380.0,260.0 380.0,259.3 380.8,251.7 381.6,244.8 382.0,241.0 382.4,244.2 383.2,251.9 384.0,260.0 384.0,260.8 384.8,267.9 385.6,277.8 386.4,286.0 387.0,292.0 387.2,294.1 388.0,302.7 388.8,310.6 389.6,320.0 389.6,320.6 390.4,335.9 391.2,351.8 391.6,360.0 392.0,357.6 392.8,353.6 393.6,351.1 394.4,347.5 394.6,346.0 395.2,350.9 396.0,357.8 396.5,362.0 396.8,365.4 397.6,373.2 398.4,377.5 399.2,377.6 400.0,377.7 400.8,376.3 401.6,375.4 402.4,372.4 403.2,368.9 403.5,368.0 404.0,365.5 404.8,363.3 405.6,360.2 406.0,359.0 406.4,360.6 407.2,364.0 408.0,365.9 408.5,368.0 408.8,369.2 409.6,371.8 410.4,375.1 411.2,377.3 412.0,377.5 412.8,378.2 413.6,375.1 414.4,377.0 415.2,377.4 416.0,375.8 416.8,376.3 417.6,375.2 418.4,375.6 419.2,376.2 420.0,375.3 420.8,375.8 421.6,378.0 422.4,376.8 423.2,376.7 424.0,378.2 424.8,376.9 425.6,378.3 426.4,377.1 427.2,377.7 428.0,375.3 428.8,377.0 429.6,377.5 430.4,375.1 431.2,378.1 432.0,375.5 432.8,376.6 433.6,375.6 434.4,376.6 435.2,377.0 436.0,375.2 436.8,378.1 437.6,376.4 438.4,376.7 439.2,377.0 440.0,376.2 440.8,375.9 441.6,377.2 442.4,376.9 443.2,375.1 444.0,364.9 444.5,360.0 444.8,355.9 445.4,349.8 445.6,352.4 446.4,361.5 446.5,362.0 447.2,368.3 448.0,378.3 448.8,378.1 449.6,375.2 450.4,378.0 451.2,376.4 452.0,376.6 452.8,378.2 453.6,375.8 454.4,376.7 455.2,378.1 456.0,377.4 456.8,376.5 457.6,378.2 458.4,377.7 459.2,377.0 460.0,375.4 460.8,377.1 461.6,376.5 462.4,375.7 463.2,375.2 464.0,376.7 464.8,375.4 465.6,375.2 466.4,371.7 467.0,370.0 467.2,369.6 468.0,368.5 468.8,368.0 469.0,367.0 469.6,367.8 470.4,370.4 471.0,371.0 471.2,371.8 472.0,373.6 472.8,376.5 473.6,377.0 474.4,377.1 475.2,377.5 476.0,375.6 476.8,375.8 477.6,378.2 478.4,378.0 479.2,377.9 480.0,375.1 480.8,375.2 481.6,375.9 482.4,376.4 483.2,377.1 484.0,375.3 484.8,376.8 485.6,375.2 486.4,375.3 487.2,377.2 488.0,376.8 488.8,377.1 489.6,376.2 490.4,376.6 491.2,375.7 492.0,376.1 492.8,377.5 493.6,377.8 494.4,375.2 495.2,375.4 496.0,377.7 496.8,377.1 497.6,377.5 498.4,375.7 499.2,376.4 500.0,375.9 500.8,377.7 501.6,376.2 502.4,377.2 503.2,378.3 504.0,376.1 504.8,376.8 505.6,377.5 506.4,378.0 507.2,376.4 508.0,376.2 508.8,375.3 509.6,377.9 510.4,375.3 511.2,375.3 512.0,376.9 512.8,376.6 513.6,377.3 514.4,376.0 515.2,377.6 516.0,375.3 516.8,375.7 517.6,377.2 518.4,375.3 519.2,376.0 520.0,377.4 520.8,377.3 521.6,375.9 522.4,375.5 523.2,376.2 524.0,377.4 524.8,376.2 525.6,375.4 526.4,377.3 527.2,376.9 528.0,378.0 528.8,378.1 529.6,378.0 530.4,376.4 531.2,377.7 532.0,376.0 532.8,376.0 533.6,376.3 534.4,378.1 535.2,378.0 536.0,375.8 536.8,376.2 537.6,376.2 538.4,376.2 539.2,376.3 540.0,376.3 540.8,375.6 541.6,376.9 542.4,377.6 543.2,376.8 544.0,377.8 544.8,376.9 545.6,375.6 546.4,377.5 547.2,377.9 548.0,375.9 548.8,375.1 549.6,376.7 550.4,376.8 551.2,376.9 552.0,378.2 552.8,377.1 553.6,377.7 554.4,375.2 555.2,376.8 556.0,377.6 556.8,375.3 557.6,375.3 558.4,377.4 559.2,378.0 560.0,375.3 560.8,377.1 561.6,375.5 562.4,377.5 563.2,377.1 564.0,375.8 564.8,375.7 565.6,377.5 566.4,376.7 567.2,377.5 568.0,376.3 568.8,376.1 569.6,378.2 570.4,377.2 571.2,376.6 572.0,376.8 572.8,377.4 573.6,377.3 574.4,378.0 575.2,376.4 576.0,377.7 576.8,377.2 577.6,377.8 578.4,377.7 579.2,377.8 580.0,377.7 580.8,373.4 581.6,370.3 582.0,368.0 582.4,363.6 583.2,355.6 583.5,352.0 584.0,347.1 584.8,339.4 585.0,338.0 585.6,329.2 586.4,317.6 587.2,306.4 587.7,300.0 588.0,298.1 588.8,290.7 589.6,285.3 590.0,282.0 590.4,278.1 591.2,271.9 592.0,266.0 592.0,265.6 592.8,258.5 593.6,250.2 594.2,245.0 594.4,246.4 595.2,254.2 596.0,262.7 596.4,266.0 596.8,268.7 597.6,275.8 598.4,281.3 598.5,282.0 599.2,286.2 600.0,290.4 600.8,296.4 601.6,300.8 601.8,302.0 602.4,308.7 603.2,318.7 603.5,322.0 604.0,330.3 604.6,342.0 604.8,346.3 605.4,360.0 605.6,358.2 606.4,348.5 606.5,348.0 607.2,342.8 608.0,338.1 608.5,334.0 608.8,331.7 609.6,324.6 610.2,320.0 610.4,317.7 611.2,310.5 612.0,304.9 612.5,300.0 612.8,296.3 613.6,289.3 614.4,281.0 614.4,281.0 615.2,276.8 616.0,271.8 616.8,266.8 617.5,262.0 617.6,261.8 618.4,254.4 619.2,246.8 619.5,244.0 620.0,248.0 620.8,255.4 621.5,262.0 621.6,262.0 622.4,268.1 623.2,273.3 624.0,278.3 624.3,281.0 624.8,285.3 625.6,292.8 626.4,298.4 626.5,300.0 627.2,307.7 628.0,315.9 628.5,321.0 628.8,324.2 629.6,336.1 630.0,341.0 630.4,349.6 631.0,362.0 631.2,363.8 632.0,371.7" fill="none" stroke="#f4f070" stroke-width="1"/><rect x="632" y="228" width="8.5" height="272" fill="url(#cbar)"/>

<rect x="6.5" y="54.5" width="11" height="11" fill="#fff" stroke="#707070" stroke-width="1"/>
<rect x="162.5" y="205.5" width="11" height="11" fill="#fff" stroke="#707070" stroke-width="1"/>
<path d="M165.2,210.6 L167.6,213.2 L171.4,207.6" fill="none" stroke="#111" stroke-width="1.7" stroke-linecap="square"/>
<rect x="598.5" y="201.5" width="32" height="19" fill="#edf4fb" stroke="#5aa2e6" stroke-width="1"/>
<rect x="599.5" y="202.5" width="30" height="17" fill="none" stroke="#cfe4f7" stroke-width="1"/>
<rect x="6.5" y="457.5" width="72" height="18.5" fill="#e6e6e6" stroke="#adadad" stroke-width="1"/>
<path d="M69,466.5 L72.3,469.8 L75.6,466.5" fill="none" stroke="#404040" stroke-width="1.4"/>
<rect x="7.5" y="509.5" width="60" height="17" fill="#e1e1e1" stroke="#adadad" stroke-width="1"/>
<path d="M81.5,207.5 L90.8,207.5 L86.15,212.4 Z" fill="#9a9aa6"/>
<rect x="118" y="37" width="13" height="1" fill="#3a90e8"/>
<path d="M118,44 L124.5,38 L131,44 Z" fill="#2a8ae8"/>
<rect x="117.5" y="186.2" width="13" height="1" fill="#3a90e8"/>
<path d="M117.5,186.6 L124,192.6 L130.5,186.6 Z" fill="#2a8ae8"/>
<rect x="129.5" y="61.5" width="2.5" height="1.2" fill="#505050"/>
<rect x="129.5" y="105" width="2.5" height="1.2" fill="#505050"/>
<rect x="129.5" y="148.5" width="2.5" height="1.2" fill="#505050"/>
<rect x="633" y="24" width="14" height="170" fill="#f0f0f0"/>
<rect x="633" y="38" width="13" height="140.5" fill="#cdcdcd"/>
<path d="M636.2,34.6 L639.5,31.3 L642.8,34.6" fill="none" stroke="#606060" stroke-width="1.5"/>
<path d="M636.2,185.4 L639.5,188.7 L642.8,185.4" fill="none" stroke="#606060" stroke-width="1.5"/>
<circle cx="9.2" cy="30.7" r="2.9" fill="url(#ico)"/><circle cx="9.0" cy="175.8" r="2.9" fill="url(#ico)"/><circle cx="9.0" cy="231.0" r="2.9" fill="url(#ico)"/><circle cx="9.0" cy="263.7" r="2.9" fill="url(#ico)"/><circle cx="85.5" cy="518.1" r="2.9" fill="url(#ico)"/><circle cx="520" cy="518" r="2.9" fill="url(#ico)"/>
</svg>
<div class="t" style="left:142.5px;top:35.5px;font-size:9.2px;color:#e8e8f0">8/18/2014 23:53:34.757631</div>
<div class="t" style="left:86px;top:8px">Spectrums/line:</div>
<div class="t" style="left:175px;top:8px">1</div>
<div class="t" style="left:235px;top:8px">+Peak</div>
<div class="t" style="left:18px;top:23px">Time/div:</div>
<div class="t" style="left:18px;top:38px">2.50 s</div>
<div class="t" style="left:22px;top:55px">3-D</div>
<div class="t" style="left:17px;top:168px">Pos:</div>
<div class="t" style="left:17px;top:183px">0.0 div</div>
<div class="t" style="left:107px;top:206.5px;letter-spacing:-0.2px">Bitmap</div>
<div class="t" style="left:176px;top:206.5px">Show</div>
<div class="t" style="left:212.5px;top:206.5px">On</div>
<div class="t" style="left:603px;top:206px;letter-spacing:-0.6px">Clear</div>
<div class="t" style="left:17.5px;top:224px;letter-spacing:-0.25px">dB/div:</div>
<div class="t" style="left:17px;top:238.5px;letter-spacing:-0.3px">10.0 dB</div>
<div class="t" style="left:17px;top:257px;letter-spacing:-0.3px">RBW:</div>
<div class="t" style="left:17px;top:271.5px;letter-spacing:-0.35px">10.0 kHz</div>
<div class="t" style="left:93px;top:224px">-47.5 &nbsp;-</div>
<div class="t" style="left:93px;top:277.8px">-67.5 &nbsp;-</div>
<div class="t" style="left:93px;top:331.6px">-87.5 &nbsp;-</div>
<div class="t" style="left:87.5px;top:385.4px">-107.5 &nbsp;-</div>
<div class="t" style="left:87.5px;top:439.2px">-127.5 &nbsp;-</div>
<div class="t" style="left:87.5px;top:493px">-147.5 &nbsp;-</div>
<div class="t" style="left:9.5px;top:462px;letter-spacing:-0.2px">Split</div>
<div class="t" style="left:14px;top:513px;letter-spacing:-0.45px">Autoscale</div>
<div class="t" style="left:93px;top:513px">CF:</div><div class="t" style="left:114px;top:513px;letter-spacing:-0.35px">2.41200 GHz</div>
<div class="t" style="left:528px;top:513px;letter-spacing:-0.3px">Span:</div><div class="t" style="left:561px;top:513px;letter-spacing:-0.25px">40.00 MHz</div>
</body></html>
